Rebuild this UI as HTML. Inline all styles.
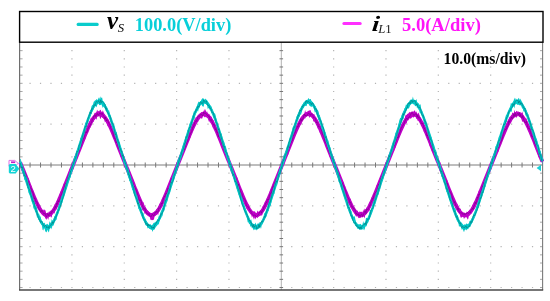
<!DOCTYPE html>
<html><head><meta charset="utf-8"><title>Waveform</title>
<style>html,body{margin:0;padding:0;background:#fff;width:550px;height:301px;overflow:hidden}svg{display:block;filter:blur(0.3px)}</style>
</head><body><svg width="550" height="301" viewBox="0 0 550 301"><path d="M71.34 50.05h1.2v1.2h-1.2zM71.34 58.22h1.2v1.2h-1.2zM71.34 66.38h1.2v1.2h-1.2zM71.34 74.55h1.2v1.2h-1.2zM71.34 82.72h1.2v1.2h-1.2zM71.34 90.89h1.2v1.2h-1.2zM71.34 99.06h1.2v1.2h-1.2zM71.34 107.22h1.2v1.2h-1.2zM71.34 115.39h1.2v1.2h-1.2zM71.34 123.56h1.2v1.2h-1.2zM71.34 131.73h1.2v1.2h-1.2zM71.34 139.9h1.2v1.2h-1.2zM71.34 148.06h1.2v1.2h-1.2zM71.34 156.23h1.2v1.2h-1.2zM71.34 164.4h1.2v1.2h-1.2zM71.34 172.57h1.2v1.2h-1.2zM71.34 180.74h1.2v1.2h-1.2zM71.34 188.9h1.2v1.2h-1.2zM71.34 197.07h1.2v1.2h-1.2zM71.34 205.24h1.2v1.2h-1.2zM71.34 213.41h1.2v1.2h-1.2zM71.34 221.58h1.2v1.2h-1.2zM71.34 229.74h1.2v1.2h-1.2zM71.34 237.91h1.2v1.2h-1.2zM71.34 246.08h1.2v1.2h-1.2zM71.34 254.25h1.2v1.2h-1.2zM71.34 262.42h1.2v1.2h-1.2zM71.34 270.58h1.2v1.2h-1.2zM71.34 278.75h1.2v1.2h-1.2zM71.34 286.92h1.2v1.2h-1.2zM123.68 50.05h1.2v1.2h-1.2zM123.68 58.22h1.2v1.2h-1.2zM123.68 66.38h1.2v1.2h-1.2zM123.68 74.55h1.2v1.2h-1.2zM123.68 82.72h1.2v1.2h-1.2zM123.68 90.89h1.2v1.2h-1.2zM123.68 99.06h1.2v1.2h-1.2zM123.68 107.22h1.2v1.2h-1.2zM123.68 115.39h1.2v1.2h-1.2zM123.68 123.56h1.2v1.2h-1.2zM123.68 131.73h1.2v1.2h-1.2zM123.68 139.9h1.2v1.2h-1.2zM123.68 148.06h1.2v1.2h-1.2zM123.68 156.23h1.2v1.2h-1.2zM123.68 164.4h1.2v1.2h-1.2zM123.68 172.57h1.2v1.2h-1.2zM123.68 180.74h1.2v1.2h-1.2zM123.68 188.9h1.2v1.2h-1.2zM123.68 197.07h1.2v1.2h-1.2zM123.68 205.24h1.2v1.2h-1.2zM123.68 213.41h1.2v1.2h-1.2zM123.68 221.58h1.2v1.2h-1.2zM123.68 229.74h1.2v1.2h-1.2zM123.68 237.91h1.2v1.2h-1.2zM123.68 246.08h1.2v1.2h-1.2zM123.68 254.25h1.2v1.2h-1.2zM123.68 262.42h1.2v1.2h-1.2zM123.68 270.58h1.2v1.2h-1.2zM123.68 278.75h1.2v1.2h-1.2zM123.68 286.92h1.2v1.2h-1.2zM176.02 50.05h1.2v1.2h-1.2zM176.02 58.22h1.2v1.2h-1.2zM176.02 66.38h1.2v1.2h-1.2zM176.02 74.55h1.2v1.2h-1.2zM176.02 82.72h1.2v1.2h-1.2zM176.02 90.89h1.2v1.2h-1.2zM176.02 99.06h1.2v1.2h-1.2zM176.02 107.22h1.2v1.2h-1.2zM176.02 115.39h1.2v1.2h-1.2zM176.02 123.56h1.2v1.2h-1.2zM176.02 131.73h1.2v1.2h-1.2zM176.02 139.9h1.2v1.2h-1.2zM176.02 148.06h1.2v1.2h-1.2zM176.02 156.23h1.2v1.2h-1.2zM176.02 164.4h1.2v1.2h-1.2zM176.02 172.57h1.2v1.2h-1.2zM176.02 180.74h1.2v1.2h-1.2zM176.02 188.9h1.2v1.2h-1.2zM176.02 197.07h1.2v1.2h-1.2zM176.02 205.24h1.2v1.2h-1.2zM176.02 213.41h1.2v1.2h-1.2zM176.02 221.58h1.2v1.2h-1.2zM176.02 229.74h1.2v1.2h-1.2zM176.02 237.91h1.2v1.2h-1.2zM176.02 246.08h1.2v1.2h-1.2zM176.02 254.25h1.2v1.2h-1.2zM176.02 262.42h1.2v1.2h-1.2zM176.02 270.58h1.2v1.2h-1.2zM176.02 278.75h1.2v1.2h-1.2zM176.02 286.92h1.2v1.2h-1.2zM228.36 50.05h1.2v1.2h-1.2zM228.36 58.22h1.2v1.2h-1.2zM228.36 66.38h1.2v1.2h-1.2zM228.36 74.55h1.2v1.2h-1.2zM228.36 82.72h1.2v1.2h-1.2zM228.36 90.89h1.2v1.2h-1.2zM228.36 99.06h1.2v1.2h-1.2zM228.36 107.22h1.2v1.2h-1.2zM228.36 115.39h1.2v1.2h-1.2zM228.36 123.56h1.2v1.2h-1.2zM228.36 131.73h1.2v1.2h-1.2zM228.36 139.9h1.2v1.2h-1.2zM228.36 148.06h1.2v1.2h-1.2zM228.36 156.23h1.2v1.2h-1.2zM228.36 164.4h1.2v1.2h-1.2zM228.36 172.57h1.2v1.2h-1.2zM228.36 180.74h1.2v1.2h-1.2zM228.36 188.9h1.2v1.2h-1.2zM228.36 197.07h1.2v1.2h-1.2zM228.36 205.24h1.2v1.2h-1.2zM228.36 213.41h1.2v1.2h-1.2zM228.36 221.58h1.2v1.2h-1.2zM228.36 229.74h1.2v1.2h-1.2zM228.36 237.91h1.2v1.2h-1.2zM228.36 246.08h1.2v1.2h-1.2zM228.36 254.25h1.2v1.2h-1.2zM228.36 262.42h1.2v1.2h-1.2zM228.36 270.58h1.2v1.2h-1.2zM228.36 278.75h1.2v1.2h-1.2zM228.36 286.92h1.2v1.2h-1.2zM333.04 50.05h1.2v1.2h-1.2zM333.04 58.22h1.2v1.2h-1.2zM333.04 66.38h1.2v1.2h-1.2zM333.04 74.55h1.2v1.2h-1.2zM333.04 82.72h1.2v1.2h-1.2zM333.04 90.89h1.2v1.2h-1.2zM333.04 99.06h1.2v1.2h-1.2zM333.04 107.22h1.2v1.2h-1.2zM333.04 115.39h1.2v1.2h-1.2zM333.04 123.56h1.2v1.2h-1.2zM333.04 131.73h1.2v1.2h-1.2zM333.04 139.9h1.2v1.2h-1.2zM333.04 148.06h1.2v1.2h-1.2zM333.04 156.23h1.2v1.2h-1.2zM333.04 164.4h1.2v1.2h-1.2zM333.04 172.57h1.2v1.2h-1.2zM333.04 180.74h1.2v1.2h-1.2zM333.04 188.9h1.2v1.2h-1.2zM333.04 197.07h1.2v1.2h-1.2zM333.04 205.24h1.2v1.2h-1.2zM333.04 213.41h1.2v1.2h-1.2zM333.04 221.58h1.2v1.2h-1.2zM333.04 229.74h1.2v1.2h-1.2zM333.04 237.91h1.2v1.2h-1.2zM333.04 246.08h1.2v1.2h-1.2zM333.04 254.25h1.2v1.2h-1.2zM333.04 262.42h1.2v1.2h-1.2zM333.04 270.58h1.2v1.2h-1.2zM333.04 278.75h1.2v1.2h-1.2zM333.04 286.92h1.2v1.2h-1.2zM385.38 50.05h1.2v1.2h-1.2zM385.38 58.22h1.2v1.2h-1.2zM385.38 66.38h1.2v1.2h-1.2zM385.38 74.55h1.2v1.2h-1.2zM385.38 82.72h1.2v1.2h-1.2zM385.38 90.89h1.2v1.2h-1.2zM385.38 99.06h1.2v1.2h-1.2zM385.38 107.22h1.2v1.2h-1.2zM385.38 115.39h1.2v1.2h-1.2zM385.38 123.56h1.2v1.2h-1.2zM385.38 131.73h1.2v1.2h-1.2zM385.38 139.9h1.2v1.2h-1.2zM385.38 148.06h1.2v1.2h-1.2zM385.38 156.23h1.2v1.2h-1.2zM385.38 164.4h1.2v1.2h-1.2zM385.38 172.57h1.2v1.2h-1.2zM385.38 180.74h1.2v1.2h-1.2zM385.38 188.9h1.2v1.2h-1.2zM385.38 197.07h1.2v1.2h-1.2zM385.38 205.24h1.2v1.2h-1.2zM385.38 213.41h1.2v1.2h-1.2zM385.38 221.58h1.2v1.2h-1.2zM385.38 229.74h1.2v1.2h-1.2zM385.38 237.91h1.2v1.2h-1.2zM385.38 246.08h1.2v1.2h-1.2zM385.38 254.25h1.2v1.2h-1.2zM385.38 262.42h1.2v1.2h-1.2zM385.38 270.58h1.2v1.2h-1.2zM385.38 278.75h1.2v1.2h-1.2zM385.38 286.92h1.2v1.2h-1.2zM437.72 50.05h1.2v1.2h-1.2zM437.72 58.22h1.2v1.2h-1.2zM437.72 66.38h1.2v1.2h-1.2zM437.72 74.55h1.2v1.2h-1.2zM437.72 82.72h1.2v1.2h-1.2zM437.72 90.89h1.2v1.2h-1.2zM437.72 99.06h1.2v1.2h-1.2zM437.72 107.22h1.2v1.2h-1.2zM437.72 115.39h1.2v1.2h-1.2zM437.72 123.56h1.2v1.2h-1.2zM437.72 131.73h1.2v1.2h-1.2zM437.72 139.9h1.2v1.2h-1.2zM437.72 148.06h1.2v1.2h-1.2zM437.72 156.23h1.2v1.2h-1.2zM437.72 164.4h1.2v1.2h-1.2zM437.72 172.57h1.2v1.2h-1.2zM437.72 180.74h1.2v1.2h-1.2zM437.72 188.9h1.2v1.2h-1.2zM437.72 197.07h1.2v1.2h-1.2zM437.72 205.24h1.2v1.2h-1.2zM437.72 213.41h1.2v1.2h-1.2zM437.72 221.58h1.2v1.2h-1.2zM437.72 229.74h1.2v1.2h-1.2zM437.72 237.91h1.2v1.2h-1.2zM437.72 246.08h1.2v1.2h-1.2zM437.72 254.25h1.2v1.2h-1.2zM437.72 262.42h1.2v1.2h-1.2zM437.72 270.58h1.2v1.2h-1.2zM437.72 278.75h1.2v1.2h-1.2zM437.72 286.92h1.2v1.2h-1.2zM490.06 50.05h1.2v1.2h-1.2zM490.06 58.22h1.2v1.2h-1.2zM490.06 66.38h1.2v1.2h-1.2zM490.06 74.55h1.2v1.2h-1.2zM490.06 82.72h1.2v1.2h-1.2zM490.06 90.89h1.2v1.2h-1.2zM490.06 99.06h1.2v1.2h-1.2zM490.06 107.22h1.2v1.2h-1.2zM490.06 115.39h1.2v1.2h-1.2zM490.06 123.56h1.2v1.2h-1.2zM490.06 131.73h1.2v1.2h-1.2zM490.06 139.9h1.2v1.2h-1.2zM490.06 148.06h1.2v1.2h-1.2zM490.06 156.23h1.2v1.2h-1.2zM490.06 164.4h1.2v1.2h-1.2zM490.06 172.57h1.2v1.2h-1.2zM490.06 180.74h1.2v1.2h-1.2zM490.06 188.9h1.2v1.2h-1.2zM490.06 197.07h1.2v1.2h-1.2zM490.06 205.24h1.2v1.2h-1.2zM490.06 213.41h1.2v1.2h-1.2zM490.06 221.58h1.2v1.2h-1.2zM490.06 229.74h1.2v1.2h-1.2zM490.06 237.91h1.2v1.2h-1.2zM490.06 246.08h1.2v1.2h-1.2zM490.06 254.25h1.2v1.2h-1.2zM490.06 262.42h1.2v1.2h-1.2zM490.06 270.58h1.2v1.2h-1.2zM490.06 278.75h1.2v1.2h-1.2zM490.06 286.92h1.2v1.2h-1.2zM29.47 82.72h1.2v1.2h-1.2zM39.94 82.72h1.2v1.2h-1.2zM50.4 82.72h1.2v1.2h-1.2zM60.87 82.72h1.2v1.2h-1.2zM81.81 82.72h1.2v1.2h-1.2zM92.28 82.72h1.2v1.2h-1.2zM102.74 82.72h1.2v1.2h-1.2zM113.21 82.72h1.2v1.2h-1.2zM134.15 82.72h1.2v1.2h-1.2zM144.62 82.72h1.2v1.2h-1.2zM155.08 82.72h1.2v1.2h-1.2zM165.55 82.72h1.2v1.2h-1.2zM186.49 82.72h1.2v1.2h-1.2zM196.96 82.72h1.2v1.2h-1.2zM207.42 82.72h1.2v1.2h-1.2zM217.89 82.72h1.2v1.2h-1.2zM238.83 82.72h1.2v1.2h-1.2zM249.3 82.72h1.2v1.2h-1.2zM259.76 82.72h1.2v1.2h-1.2zM270.23 82.72h1.2v1.2h-1.2zM291.17 82.72h1.2v1.2h-1.2zM301.64 82.72h1.2v1.2h-1.2zM312.1 82.72h1.2v1.2h-1.2zM322.57 82.72h1.2v1.2h-1.2zM343.51 82.72h1.2v1.2h-1.2zM353.98 82.72h1.2v1.2h-1.2zM364.44 82.72h1.2v1.2h-1.2zM374.91 82.72h1.2v1.2h-1.2zM395.85 82.72h1.2v1.2h-1.2zM406.32 82.72h1.2v1.2h-1.2zM416.78 82.72h1.2v1.2h-1.2zM427.25 82.72h1.2v1.2h-1.2zM448.19 82.72h1.2v1.2h-1.2zM458.66 82.72h1.2v1.2h-1.2zM469.12 82.72h1.2v1.2h-1.2zM479.59 82.72h1.2v1.2h-1.2zM500.53 82.72h1.2v1.2h-1.2zM511 82.72h1.2v1.2h-1.2zM521.46 82.72h1.2v1.2h-1.2zM531.93 82.72h1.2v1.2h-1.2zM29.47 123.56h1.2v1.2h-1.2zM39.94 123.56h1.2v1.2h-1.2zM50.4 123.56h1.2v1.2h-1.2zM60.87 123.56h1.2v1.2h-1.2zM81.81 123.56h1.2v1.2h-1.2zM92.28 123.56h1.2v1.2h-1.2zM102.74 123.56h1.2v1.2h-1.2zM113.21 123.56h1.2v1.2h-1.2zM134.15 123.56h1.2v1.2h-1.2zM144.62 123.56h1.2v1.2h-1.2zM155.08 123.56h1.2v1.2h-1.2zM165.55 123.56h1.2v1.2h-1.2zM186.49 123.56h1.2v1.2h-1.2zM196.96 123.56h1.2v1.2h-1.2zM207.42 123.56h1.2v1.2h-1.2zM217.89 123.56h1.2v1.2h-1.2zM238.83 123.56h1.2v1.2h-1.2zM249.3 123.56h1.2v1.2h-1.2zM259.76 123.56h1.2v1.2h-1.2zM270.23 123.56h1.2v1.2h-1.2zM291.17 123.56h1.2v1.2h-1.2zM301.64 123.56h1.2v1.2h-1.2zM312.1 123.56h1.2v1.2h-1.2zM322.57 123.56h1.2v1.2h-1.2zM343.51 123.56h1.2v1.2h-1.2zM353.98 123.56h1.2v1.2h-1.2zM364.44 123.56h1.2v1.2h-1.2zM374.91 123.56h1.2v1.2h-1.2zM395.85 123.56h1.2v1.2h-1.2zM406.32 123.56h1.2v1.2h-1.2zM416.78 123.56h1.2v1.2h-1.2zM427.25 123.56h1.2v1.2h-1.2zM448.19 123.56h1.2v1.2h-1.2zM458.66 123.56h1.2v1.2h-1.2zM469.12 123.56h1.2v1.2h-1.2zM479.59 123.56h1.2v1.2h-1.2zM500.53 123.56h1.2v1.2h-1.2zM511 123.56h1.2v1.2h-1.2zM521.46 123.56h1.2v1.2h-1.2zM531.93 123.56h1.2v1.2h-1.2zM29.47 205.24h1.2v1.2h-1.2zM39.94 205.24h1.2v1.2h-1.2zM50.4 205.24h1.2v1.2h-1.2zM60.87 205.24h1.2v1.2h-1.2zM81.81 205.24h1.2v1.2h-1.2zM92.28 205.24h1.2v1.2h-1.2zM102.74 205.24h1.2v1.2h-1.2zM113.21 205.24h1.2v1.2h-1.2zM134.15 205.24h1.2v1.2h-1.2zM144.62 205.24h1.2v1.2h-1.2zM155.08 205.24h1.2v1.2h-1.2zM165.55 205.24h1.2v1.2h-1.2zM186.49 205.24h1.2v1.2h-1.2zM196.96 205.24h1.2v1.2h-1.2zM207.42 205.24h1.2v1.2h-1.2zM217.89 205.24h1.2v1.2h-1.2zM238.83 205.24h1.2v1.2h-1.2zM249.3 205.24h1.2v1.2h-1.2zM259.76 205.24h1.2v1.2h-1.2zM270.23 205.24h1.2v1.2h-1.2zM291.17 205.24h1.2v1.2h-1.2zM301.64 205.24h1.2v1.2h-1.2zM312.1 205.24h1.2v1.2h-1.2zM322.57 205.24h1.2v1.2h-1.2zM343.51 205.24h1.2v1.2h-1.2zM353.98 205.24h1.2v1.2h-1.2zM364.44 205.24h1.2v1.2h-1.2zM374.91 205.24h1.2v1.2h-1.2zM395.85 205.24h1.2v1.2h-1.2zM406.32 205.24h1.2v1.2h-1.2zM416.78 205.24h1.2v1.2h-1.2zM427.25 205.24h1.2v1.2h-1.2zM448.19 205.24h1.2v1.2h-1.2zM458.66 205.24h1.2v1.2h-1.2zM469.12 205.24h1.2v1.2h-1.2zM479.59 205.24h1.2v1.2h-1.2zM500.53 205.24h1.2v1.2h-1.2zM511 205.24h1.2v1.2h-1.2zM521.46 205.24h1.2v1.2h-1.2zM531.93 205.24h1.2v1.2h-1.2zM29.47 246.08h1.2v1.2h-1.2zM39.94 246.08h1.2v1.2h-1.2zM50.4 246.08h1.2v1.2h-1.2zM60.87 246.08h1.2v1.2h-1.2zM81.81 246.08h1.2v1.2h-1.2zM92.28 246.08h1.2v1.2h-1.2zM102.74 246.08h1.2v1.2h-1.2zM113.21 246.08h1.2v1.2h-1.2zM134.15 246.08h1.2v1.2h-1.2zM144.62 246.08h1.2v1.2h-1.2zM155.08 246.08h1.2v1.2h-1.2zM165.55 246.08h1.2v1.2h-1.2zM186.49 246.08h1.2v1.2h-1.2zM196.96 246.08h1.2v1.2h-1.2zM207.42 246.08h1.2v1.2h-1.2zM217.89 246.08h1.2v1.2h-1.2zM238.83 246.08h1.2v1.2h-1.2zM249.3 246.08h1.2v1.2h-1.2zM259.76 246.08h1.2v1.2h-1.2zM270.23 246.08h1.2v1.2h-1.2zM291.17 246.08h1.2v1.2h-1.2zM301.64 246.08h1.2v1.2h-1.2zM312.1 246.08h1.2v1.2h-1.2zM322.57 246.08h1.2v1.2h-1.2zM343.51 246.08h1.2v1.2h-1.2zM353.98 246.08h1.2v1.2h-1.2zM364.44 246.08h1.2v1.2h-1.2zM374.91 246.08h1.2v1.2h-1.2zM395.85 246.08h1.2v1.2h-1.2zM406.32 246.08h1.2v1.2h-1.2zM416.78 246.08h1.2v1.2h-1.2zM427.25 246.08h1.2v1.2h-1.2zM448.19 246.08h1.2v1.2h-1.2zM458.66 246.08h1.2v1.2h-1.2zM469.12 246.08h1.2v1.2h-1.2zM479.59 246.08h1.2v1.2h-1.2zM500.53 246.08h1.2v1.2h-1.2zM511 246.08h1.2v1.2h-1.2zM521.46 246.08h1.2v1.2h-1.2zM531.93 246.08h1.2v1.2h-1.2zM29.47 286.92h1.2v1.2h-1.2zM39.94 286.92h1.2v1.2h-1.2zM50.4 286.92h1.2v1.2h-1.2zM60.87 286.92h1.2v1.2h-1.2zM81.81 286.92h1.2v1.2h-1.2zM92.28 286.92h1.2v1.2h-1.2zM102.74 286.92h1.2v1.2h-1.2zM113.21 286.92h1.2v1.2h-1.2zM134.15 286.92h1.2v1.2h-1.2zM144.62 286.92h1.2v1.2h-1.2zM155.08 286.92h1.2v1.2h-1.2zM165.55 286.92h1.2v1.2h-1.2zM186.49 286.92h1.2v1.2h-1.2zM196.96 286.92h1.2v1.2h-1.2zM207.42 286.92h1.2v1.2h-1.2zM217.89 286.92h1.2v1.2h-1.2zM238.83 286.92h1.2v1.2h-1.2zM249.3 286.92h1.2v1.2h-1.2zM259.76 286.92h1.2v1.2h-1.2zM270.23 286.92h1.2v1.2h-1.2zM291.17 286.92h1.2v1.2h-1.2zM301.64 286.92h1.2v1.2h-1.2zM312.1 286.92h1.2v1.2h-1.2zM322.57 286.92h1.2v1.2h-1.2zM343.51 286.92h1.2v1.2h-1.2zM353.98 286.92h1.2v1.2h-1.2zM364.44 286.92h1.2v1.2h-1.2zM374.91 286.92h1.2v1.2h-1.2zM395.85 286.92h1.2v1.2h-1.2zM406.32 286.92h1.2v1.2h-1.2zM416.78 286.92h1.2v1.2h-1.2zM427.25 286.92h1.2v1.2h-1.2zM448.19 286.92h1.2v1.2h-1.2zM458.66 286.92h1.2v1.2h-1.2zM469.12 286.92h1.2v1.2h-1.2zM479.59 286.92h1.2v1.2h-1.2zM500.53 286.92h1.2v1.2h-1.2zM511 286.92h1.2v1.2h-1.2zM521.46 286.92h1.2v1.2h-1.2zM531.93 286.92h1.2v1.2h-1.2zM71.34 82.72h1.2v1.2h-1.2zM71.34 123.56h1.2v1.2h-1.2zM71.34 205.24h1.2v1.2h-1.2zM71.34 246.08h1.2v1.2h-1.2zM71.34 286.92h1.2v1.2h-1.2zM123.68 82.72h1.2v1.2h-1.2zM123.68 123.56h1.2v1.2h-1.2zM123.68 205.24h1.2v1.2h-1.2zM123.68 246.08h1.2v1.2h-1.2zM123.68 286.92h1.2v1.2h-1.2zM176.02 82.72h1.2v1.2h-1.2zM176.02 123.56h1.2v1.2h-1.2zM176.02 205.24h1.2v1.2h-1.2zM176.02 246.08h1.2v1.2h-1.2zM176.02 286.92h1.2v1.2h-1.2zM228.36 82.72h1.2v1.2h-1.2zM228.36 123.56h1.2v1.2h-1.2zM228.36 205.24h1.2v1.2h-1.2zM228.36 246.08h1.2v1.2h-1.2zM228.36 286.92h1.2v1.2h-1.2zM333.04 82.72h1.2v1.2h-1.2zM333.04 123.56h1.2v1.2h-1.2zM333.04 205.24h1.2v1.2h-1.2zM333.04 246.08h1.2v1.2h-1.2zM333.04 286.92h1.2v1.2h-1.2zM385.38 82.72h1.2v1.2h-1.2zM385.38 123.56h1.2v1.2h-1.2zM385.38 205.24h1.2v1.2h-1.2zM385.38 246.08h1.2v1.2h-1.2zM385.38 286.92h1.2v1.2h-1.2zM437.72 82.72h1.2v1.2h-1.2zM437.72 123.56h1.2v1.2h-1.2zM437.72 205.24h1.2v1.2h-1.2zM437.72 246.08h1.2v1.2h-1.2zM437.72 286.92h1.2v1.2h-1.2zM490.06 82.72h1.2v1.2h-1.2zM490.06 123.56h1.2v1.2h-1.2zM490.06 205.24h1.2v1.2h-1.2zM490.06 246.08h1.2v1.2h-1.2zM490.06 286.92h1.2v1.2h-1.2z" fill="#b4b4b4"/><line x1="19.6" y1="165" x2="543" y2="165" stroke="#7c7c7c" stroke-width="1"/><line x1="281.3" y1="42" x2="281.3" y2="290" stroke="#b2b2b2" stroke-width="1"/><path d="M30.07 162.5v5 M40.54 162.5v5 M51 162.5v5 M61.47 162.5v5 M71.94 162.5v5 M82.41 162.5v5 M92.88 162.5v5 M103.34 162.5v5 M113.81 162.5v5 M124.28 162.5v5 M134.75 162.5v5 M145.22 162.5v5 M155.68 162.5v5 M166.15 162.5v5 M176.62 162.5v5 M187.09 162.5v5 M197.56 162.5v5 M208.02 162.5v5 M218.49 162.5v5 M228.96 162.5v5 M239.43 162.5v5 M249.9 162.5v5 M260.36 162.5v5 M270.83 162.5v5 M281.3 162.5v5 M291.77 162.5v5 M302.24 162.5v5 M312.7 162.5v5 M323.17 162.5v5 M333.64 162.5v5 M344.11 162.5v5 M354.58 162.5v5 M365.04 162.5v5 M375.51 162.5v5 M385.98 162.5v5 M396.45 162.5v5 M406.92 162.5v5 M417.38 162.5v5 M427.85 162.5v5 M438.32 162.5v5 M448.79 162.5v5 M459.26 162.5v5 M469.72 162.5v5 M480.19 162.5v5 M490.66 162.5v5 M501.13 162.5v5 M511.6 162.5v5 M522.06 162.5v5 M532.53 162.5v5 M279.5 50.65h3.6 M279.5 58.82h3.6 M279.5 66.98h3.6 M279.5 75.15h3.6 M279.5 83.32h3.6 M279.5 91.49h3.6 M279.5 99.66h3.6 M279.5 107.82h3.6 M279.5 115.99h3.6 M279.5 124.16h3.6 M279.5 132.33h3.6 M279.5 140.5h3.6 M279.5 148.66h3.6 M279.5 156.83h3.6 M279.5 165h3.6 M279.5 173.17h3.6 M279.5 181.34h3.6 M279.5 189.5h3.6 M279.5 197.67h3.6 M279.5 205.84h3.6 M279.5 214.01h3.6 M279.5 222.18h3.6 M279.5 230.34h3.6 M279.5 238.51h3.6 M279.5 246.68h3.6 M279.5 254.85h3.6 M279.5 263.02h3.6 M279.5 271.18h3.6 M279.5 279.35h3.6 M279.5 287.52h3.6 " stroke="#787878" stroke-width="1" fill="none"/><path d="M19.6 50.65h3 M543 50.65h-3 M19.6 58.82h3 M543 58.82h-3 M19.6 66.98h3 M543 66.98h-3 M19.6 75.15h3 M543 75.15h-3 M19.6 83.32h3 M543 83.32h-3 M19.6 91.49h3 M543 91.49h-3 M19.6 99.66h3 M543 99.66h-3 M19.6 107.82h3 M543 107.82h-3 M19.6 115.99h3 M543 115.99h-3 M19.6 124.16h3 M543 124.16h-3 M19.6 132.33h3 M543 132.33h-3 M19.6 140.5h3 M543 140.5h-3 M19.6 148.66h3 M543 148.66h-3 M19.6 156.83h3 M543 156.83h-3 M19.6 165h3 M543 165h-3 M19.6 173.17h3 M543 173.17h-3 M19.6 181.34h3 M543 181.34h-3 M19.6 189.5h3 M543 189.5h-3 M19.6 197.67h3 M543 197.67h-3 M19.6 205.84h3 M543 205.84h-3 M19.6 214.01h3 M543 214.01h-3 M19.6 222.18h3 M543 222.18h-3 M19.6 230.34h3 M543 230.34h-3 M19.6 238.51h3 M543 238.51h-3 M19.6 246.68h3 M543 246.68h-3 M19.6 254.85h3 M543 254.85h-3 M19.6 263.02h3 M543 263.02h-3 M19.6 271.18h3 M543 271.18h-3 M19.6 279.35h3 M543 279.35h-3 M19.6 287.52h3 M543 287.52h-3 " stroke="#a8a8a8" stroke-width="1" fill="none"/><line x1="19.6" y1="42" x2="19.6" y2="290" stroke="#6e6e6e" stroke-width="1.2"/><line x1="542.6" y1="42" x2="542.6" y2="290" stroke="#7a7a7a" stroke-width="1.1"/><line x1="19" y1="290" x2="543.2" y2="290" stroke="#4a4a4a" stroke-width="1.5"/><polygon points="20.2,160.01 20.9,161.71 21.6,163.74 22.3,163.89 23,167.21 23.7,168.95 24.4,169.79 25.1,172.43 25.8,174.16 26.5,175.61 27.2,177.24 27.9,178.52 28.6,178.03 29.3,181.84 30,184.66 30.7,186.29 31.4,185.42 32.1,189.94 32.8,188.67 33.5,192.58 34.2,195.04 34.9,195.28 35.6,198.26 36.3,199.79 37,201.27 37.7,201.87 38.4,204.06 39.1,203.72 39.8,206.56 40.5,206.87 41.2,208.71 41.9,209.56 42.6,210.51 43.3,210.53 44,209.01 44.7,210.25 45.4,210.3 46.1,212.93 46.8,213.06 47.5,212.38 48.2,212.97 48.9,211.61 49.6,211.68 50.3,210.68 51,210.72 51.7,210.49 52.4,209.74 53.1,208.82 53.8,207.19 54.5,204.41 55.2,204.41 55.9,204.19 56.6,201.72 57.3,200.58 58,199.81 58.7,197.85 59.4,195.51 60.1,192.71 60.8,191.16 61.5,190.23 62.2,189.31 62.9,187.64 63.6,183.48 64.3,184.67 65,182.83 65.7,179.99 66.4,179.22 67.1,177.42 67.8,176 68.5,173.31 69.2,170.18 69.9,168.54 70.6,169.05 71.3,164.9 72,164.97 72.7,163.49 73.4,161 74.1,160.41 74.8,158.66 75.5,156.58 76.2,152.2 76.9,153.49 77.6,150.61 78.3,148.41 79,147.94 79.7,146.44 80.4,143.92 81.1,142.06 81.8,140.17 82.5,139.42 83.2,136.52 83.9,135.81 84.6,133.47 85.3,130.92 86,128.23 86.7,128.87 87.4,127.38 88.1,124.36 88.8,123.57 89.5,121.23 90.2,121.55 90.9,117.25 91.6,118.87 92.3,117.66 93,116.17 93.7,115.71 94.4,113.18 95.1,112.46 95.8,112.9 96.5,111.72 97.2,109.59 97.9,111.53 98.6,110.95 99.3,111.14 100,109.81 100.7,109.93 101.4,111.59 102.1,112.19 102.8,110.21 103.5,112.12 104.2,113.46 104.9,115.15 105.6,116.28 106.3,117.14 107,118.2 107.7,119.03 108.4,119.58 109.1,122.44 109.8,123.78 110.5,124.18 111.2,126.94 111.9,128.32 112.6,129.76 113.3,131.1 114,131.63 114.7,135.28 115.4,134.71 116.1,136.3 116.8,138.33 117.5,141.1 118.2,142.25 118.9,145.85 119.6,147.61 120.3,146.95 121,150.71 121.7,151.84 122.4,154.6 123.1,155.91 123.8,158.06 124.5,156.7 125.2,161.54 125.9,161.83 126.6,164.55 127.3,166.72 128,168.44 128.7,169.98 129.4,171.5 130.1,172.03 130.8,174.63 131.5,176.78 132.2,178.89 132.9,179.2 133.6,180.17 134.3,182.79 135,184.78 135.7,187.41 136.4,188.64 137.1,188.5 137.8,191.98 138.5,194.38 139.2,195.11 139.9,197.81 140.6,199.32 141.3,200.85 142,202.27 142.7,203.29 143.4,201.87 144.1,206.25 144.8,207.4 145.5,208.12 146.2,208.69 146.9,210.04 147.6,210.88 148.3,211.11 149,212.12 149.7,212.61 150.4,212.7 151.1,213.06 151.8,213.1 152.5,212.67 153.2,212.35 153.9,212.15 154.6,211.32 155.3,211.16 156,210.31 156.7,209.03 157.4,208.46 158.1,207.62 158.8,205.74 159.5,203.55 160.2,204.41 160.9,202.65 161.6,200.45 162.3,197.34 163,198.82 163.7,197 164.4,195.12 165.1,192.99 165.8,192.13 166.5,190.45 167.2,188.86 167.9,186.34 168.6,185.12 169.3,183.44 170,181.73 170.7,177.58 171.4,178.31 172.1,176.56 172.8,173.77 173.5,173.05 174.2,171.31 174.9,168.5 175.6,167.69 176.3,166.1 177,161.89 177.7,162.38 178.4,160.82 179.1,156.9 179.8,157.3 180.5,155.54 181.2,152.37 181.9,151.67 182.6,148.31 183.3,148.3 184,144.1 184.7,145.22 185.4,143.46 186.1,139.37 186.8,139.93 187.5,138.14 188.2,135.98 188.9,134.58 189.6,132.61 190.3,130.17 191,127.84 191.7,126.34 192.4,123.61 193.1,123.74 193.8,123.16 194.5,118.86 195.2,120.59 195.9,116.41 196.6,118.12 197.3,116.99 198,115.35 198.7,115.05 199.4,114.19 200.1,113.49 200.8,112.91 201.5,111.91 202.2,112.02 202.9,111.7 203.6,111.35 204.3,109 205,111.38 205.7,108.99 206.4,112.47 207.1,111.34 207.8,113.56 208.5,114.24 209.2,114.29 209.9,115.57 210.6,117.09 211.3,116.43 212,118.24 212.7,120.38 213.4,120.06 214.1,123.27 214.8,123.19 215.5,126.07 216.2,128.03 216.9,129.67 217.6,131.27 218.3,132.92 219,133 219.7,136.39 220.4,137.73 221.1,136.94 221.8,141.08 222.5,143.08 223.2,145.16 223.9,147.09 224.6,146.17 225.3,150.5 226,152.36 226.7,152.97 227.4,153.97 228.1,157.55 228.8,159.1 229.5,160.79 230.2,161.33 230.9,164.38 231.6,166.02 232.3,166.38 233,169.69 233.7,170.55 234.4,172.76 235.1,174.2 235.8,174.33 236.5,178.04 237.2,177.13 237.9,180.1 238.6,182.94 239.3,185.44 240,187.13 240.7,188.66 241.4,190.7 242.1,191.85 242.8,191.69 243.5,195.05 244.2,197.28 244.9,198.33 245.6,199.93 246.3,201.9 247,202.41 247.7,203.37 248.4,204.25 249.1,206.76 249.8,207.58 250.5,209.1 251.2,209.2 251.9,210.82 252.6,211.17 253.3,211.01 254,212.14 254.7,210.82 255.4,212.44 256.1,212.64 256.8,212.95 257.5,210.54 258.2,211.22 258.9,212.17 259.6,211.23 260.3,209.91 261,210.13 261.7,209.36 262.4,207.44 263.1,205.65 263.8,205.59 264.5,203.34 265.2,200.86 265.9,202.14 266.6,198.48 267.3,199.12 268,197.7 268.7,195.7 269.4,194.11 270.1,190.26 270.8,189.19 271.5,189.34 272.2,187.59 272.9,183.68 273.6,182.88 274.3,180.24 275,179.5 275.7,178.82 276.4,175.91 277.1,175.26 277.8,173.39 278.5,171.15 279.2,167.52 279.9,167.49 280.6,166.32 281.3,164.87 282,163.09 282.7,161.34 283.4,159.62 284.1,155.64 284.8,155.91 285.5,151.92 286.2,152.19 286.9,150.08 287.6,148.83 288.3,147.04 289,144.21 289.7,143.92 290.4,140.65 291.1,140.07 291.8,138.29 292.5,135.77 293.2,135.18 293.9,133.09 294.6,131.72 295.3,127.72 296,126.89 296.7,126.78 297.4,124.55 298.1,123.17 298.8,122.36 299.5,119.94 300.2,119.69 300.9,118.43 301.6,116.94 302.3,116.26 303,115.31 303.7,114.45 304.4,113.47 305.1,109.92 305.8,112.53 306.5,112.12 307.2,111.74 307.9,111.01 308.6,110.83 309.3,110.72 310,109.78 310.7,110.43 311.4,112.78 312.1,112.85 312.8,114.04 313.5,114.59 314.2,113.72 314.9,116.78 315.6,117.81 316.3,119.01 317,119.16 317.7,121.66 318.4,121.65 319.1,124.56 319.8,126.09 320.5,126.2 321.2,129.09 321.9,130.93 322.6,132.53 323.3,134.33 324,134.84 324.7,137.78 325.4,139.35 326.1,141.28 326.8,143.05 327.5,144.05 328.2,143.64 328.9,145.88 329.6,149.17 330.3,151.83 331,153.36 331.7,155.17 332.4,157.02 333.1,158.48 333.8,160.5 334.5,162.04 335.2,162.9 335.9,165.73 336.6,167.46 337.3,168.81 338,170.83 338.7,172.55 339.4,174.37 340.1,175.85 340.8,177.79 341.5,178.23 342.2,181.24 342.9,181.4 343.6,182.58 344.3,186.32 345,185.5 345.7,190.18 346.4,191.93 347.1,193.57 347.8,194.75 348.5,195.07 349.2,198.35 349.9,198.85 350.6,198.64 351.3,202.16 352,204.12 352.7,205.07 353.4,206.65 354.1,207.86 354.8,208.88 355.5,209.51 356.2,210.6 356.9,211.32 357.6,210.3 358.3,212.34 359,212.63 359.7,211.16 360.4,211.96 361.1,211.43 361.8,211.98 362.5,212.68 363.2,209.37 363.9,211.56 364.6,208.58 365.3,209.29 366,209.54 366.7,208.67 367.4,207.13 368.1,206.41 368.8,205.22 369.5,202.56 370.2,201.56 370.9,201.18 371.6,197.09 372.3,198.15 373,195.98 373.7,194.86 374.4,193.1 375.1,191.56 375.8,189.85 376.5,184.94 377.2,186 377.9,184.41 378.6,181.94 379.3,178.44 380,179.05 380.7,177.55 381.4,175.8 382.1,172.68 382.8,172.31 383.5,170.56 384.2,167.24 384.9,165.44 385.6,162.3 386.3,163.43 387,159.5 387.7,160.14 388.4,157.54 389.1,155.89 389.8,152.61 390.5,153.12 391.2,150.18 391.9,149.73 392.6,147.85 393.3,145.82 394,143.97 394.7,140.52 395.4,140.94 396.1,136.33 396.8,136.31 397.5,134.7 398.2,133.95 398.9,132.25 399.6,129.73 400.3,126.7 401,126.92 401.7,123.88 402.4,123.3 403.1,122.74 403.8,120.94 404.5,119.77 405.2,116.22 405.9,114.5 406.6,115.28 407.3,113.49 408,114.31 408.7,113.04 409.4,111.63 410.1,112.7 410.8,112.22 411.5,111.46 412.2,111.7 412.9,111.15 413.6,111.71 414.3,110.47 415,110.62 415.7,112.66 416.4,111.14 417.1,113.85 417.8,113.88 418.5,112.42 419.2,114.33 419.9,116.6 420.6,118.59 421.3,119.89 422,121.27 422.7,122.35 423.4,121.47 424.1,125.62 424.8,125.94 425.5,128.6 426.2,130.22 426.9,131.84 427.6,133.71 428.3,134.95 429,137.23 429.7,138.76 430.4,139.5 431.1,142.58 431.8,144.07 432.5,145.03 433.2,147.64 433.9,149.57 434.6,149.6 435.3,152.6 436,154.85 436.7,155.38 437.4,156.01 438.1,159.24 438.8,161.46 439.5,162.8 440.2,162.11 440.9,166.09 441.6,168.7 442.3,169.54 443,172.15 443.7,173.73 444.4,175.67 445.1,176.13 445.8,177.95 446.5,180.63 447.2,180.03 447.9,184.35 448.6,186.24 449.3,187.57 450,189.72 450.7,191.36 451.4,192.91 452.1,194.51 452.8,194.47 453.5,198.03 454.2,199.37 454.9,198.22 455.6,202.51 456.3,202.74 457,205.2 457.7,203.54 458.4,207.56 459.1,208.55 459.8,209.44 460.5,208.17 461.2,210.73 461.9,211.67 462.6,212.11 463.3,212.51 464,212.93 464.7,212.6 465.4,213.06 466.1,212.89 466.8,211.42 467.5,212.2 468.2,211.28 468.9,210.68 469.6,209.95 470.3,209.47 471,208.95 471.7,207.88 472.4,204.8 473.1,204.64 473.8,202.53 474.5,201.26 475.2,201.61 475.9,199.35 476.6,197.76 477.3,195.65 478,194.11 478.7,190.69 479.4,190.52 480.1,190.17 480.8,188.6 481.5,186.86 482.2,184.17 482.9,183.35 483.6,181.03 484.3,179.6 485,178.06 485.7,176.31 486.4,173.57 487.1,171.76 487.8,171.06 488.5,168.68 489.2,167.57 489.9,165.41 490.6,162.22 491.3,162.05 492,159.59 492.7,157.7 493.4,157.21 494.1,154.3 494.8,153.18 495.5,151.69 496.2,148.88 496.9,146.54 497.6,146.15 498.3,144.96 499,141.54 499.7,141.41 500.4,138.96 501.1,137.3 501.8,135.14 502.5,133.27 503.2,131.52 503.9,131.06 504.6,129.32 505.3,127.42 506,126.13 506.7,124.66 507.4,122.47 508.1,121.29 508.8,118.94 509.5,116.52 510.2,117.92 510.9,115.62 511.6,115.27 512.3,112.19 513,113.22 513.7,113.43 514.4,109.75 515.1,112.38 515.8,112.03 516.5,110.78 517.2,111.25 517.9,111.71 518.6,111.48 519.3,111.91 520,112.16 520.7,112.48 521.4,113.55 522.1,111.43 522.8,113.22 523.5,115.82 524.2,116.5 524.9,118.37 525.6,119.6 526.3,118.09 527,120.45 527.7,123.09 528.4,125.21 529.1,123.79 529.8,128.24 530.5,128.53 531.2,131.2 531.9,133.06 532.6,135.06 533.3,136.46 534,138.52 534.7,139.86 535.4,142.06 536.1,143.72 536.8,144.02 537.5,145.94 538.2,148.89 538.9,150.73 539.6,152.43 540.3,152.83 541,155.92 541.7,156.53 542.4,159.56 542.4,164.16 541.7,162.38 541,160.37 540.3,158.68 539.6,156.83 538.9,157.49 538.2,156.42 537.5,151.61 536.8,150.31 536.1,149.27 535.4,146.32 534.7,144.57 534,143.66 533.3,142.55 532.6,139.29 531.9,137.6 531.2,135.98 530.5,134.25 529.8,132.69 529.1,132.81 528.4,129.41 527.7,129.3 527,127.52 526.3,125.1 525.6,123.8 524.9,123.02 524.2,122.18 523.5,121.06 522.8,122.06 522.1,121.35 521.4,118.97 520.7,117.25 520,117.29 519.3,116.71 518.6,116.1 517.9,116.4 517.2,115.91 516.5,118.01 515.8,116.83 515.1,117.53 514.4,117.14 513.7,118.21 513,118.33 512.3,119.14 511.6,120.18 510.9,123.75 510.2,122.46 509.5,123.51 508.8,124.68 508.1,126.89 507.4,127.91 506.7,130.9 506,130.82 505.3,132.05 504.6,133.66 503.9,135.76 503.2,137.01 502.5,138.74 501.8,140.54 501.1,144.46 500.4,143.89 499.7,145.67 499,147.41 498.3,151.92 497.6,151.47 496.9,152.69 496.2,154.45 495.5,156.56 494.8,160.91 494.1,159.94 493.4,163.21 492.7,163.75 492,164.91 491.3,169.62 490.6,168.47 489.9,170.24 489.2,171.92 488.5,173.55 487.8,176.57 487.1,177.19 486.4,181.31 485.7,180.77 485,184.4 484.3,184.52 483.6,188.3 482.9,187.65 482.2,189.84 481.5,191.07 480.8,192.91 480.1,194.83 479.4,196.52 478.7,200.4 478,199.83 477.3,201.84 476.6,202.8 475.9,204.87 475.2,207.23 474.5,208.79 473.8,208.69 473.1,209.85 472.4,211.25 471.7,213.76 471,213.16 470.3,214.51 469.6,215.53 468.9,215.73 468.2,218.99 467.5,219.51 466.8,217.34 466.1,217.55 465.4,217.3 464.7,217.8 464,218.99 463.3,217.11 462.6,216.72 461.9,217.25 461.2,217.7 460.5,217.31 459.8,214.13 459.1,212.81 458.4,211.99 457.7,211.47 457,209.41 456.3,208.11 455.6,208.48 454.9,205.51 454.2,204.52 453.5,205.16 452.8,200.65 452.1,199.56 451.4,197.34 450.7,197.15 450,193.93 449.3,192.19 448.6,192.01 447.9,189.18 447.2,189.22 446.5,185.16 445.8,184.89 445.1,181.69 444.4,180.76 443.7,179.44 443,176.54 442.3,174.67 441.6,173.22 440.9,172.27 440.2,169.64 439.5,170.63 438.8,166.08 438.1,164.59 437.4,165.27 436.7,161.75 436,159.21 435.3,157.32 434.6,157.54 433.9,154.06 433.2,152.07 432.5,151.28 431.8,151.33 431.1,147.02 430.4,145.71 429.7,145.86 429,143.51 428.3,139.84 427.6,139.16 426.9,136.76 426.2,136.43 425.5,133.03 424.8,131.56 424.1,133 423.4,129.06 422.7,126.89 422,125.49 421.3,124.86 420.6,123.02 419.9,122.01 419.2,121.92 418.5,119.74 417.8,121.18 417.1,118.25 416.4,119.26 415.7,116.87 415,116.45 414.3,116.67 413.6,117.6 412.9,117.46 412.2,116.82 411.5,118.23 410.8,118.15 410.1,119.01 409.4,117.88 408.7,120.76 408,118.93 407.3,119.78 406.6,123.86 405.9,123.12 405.2,123.02 404.5,124.92 403.8,125.58 403.1,127.67 402.4,128.68 401.7,131.01 401,132.11 400.3,135.15 399.6,134.82 398.9,137.28 398.2,138.32 397.5,142.62 396.8,141.65 396.1,143.42 395.4,148.23 394.7,147.01 394,151.43 393.3,150.64 392.6,152.45 391.9,153.95 391.2,156.22 390.5,158.75 389.8,159.29 389.1,161.06 388.4,164.35 387.7,164.57 387,166.11 386.3,168.96 385.6,169.57 384.9,173.11 384.2,174.3 383.5,175.23 382.8,176.54 382.1,178.35 381.4,180.01 380.7,181.76 380,185.38 379.3,187.35 378.6,187.82 377.9,188.81 377.2,190.79 376.5,192.34 375.8,194.07 375.1,198.04 374.4,197.51 373.7,199.16 373,200.77 372.3,202.46 371.6,203.95 370.9,205.41 370.2,207.35 369.5,211.22 368.8,209.68 368.1,212.35 367.4,212.2 366.7,212.99 366,215.07 365.3,214.66 364.6,218.48 363.9,216.8 363.2,216.51 362.5,217.52 361.8,217.18 361.1,217.28 360.4,218.06 359.7,217.76 359,218.35 358.3,217.76 357.6,216.31 356.9,215.58 356.2,216.9 355.5,215.48 354.8,214.21 354.1,212.07 353.4,210.97 352.7,209.8 352,208.55 351.3,207.5 350.6,207.5 349.9,205.3 349.2,204.91 348.5,204.01 347.8,200.26 347.1,198.2 346.4,196.64 345.7,195.42 345,192.7 344.3,191.04 343.6,189.19 342.9,189.61 342.2,185.89 341.5,184.69 340.8,182.75 340.1,181.13 339.4,179.58 338.7,179.15 338,175.19 337.3,174.04 336.6,171.88 335.9,170.12 335.2,168.75 334.5,166.49 333.8,164.75 333.1,163.03 332.4,161.3 331.7,159.67 331,158.01 330.3,156.88 329.6,157.11 328.9,152.6 328.2,150.89 327.5,149.63 326.8,147.28 326.1,145.6 325.4,143.95 324.7,142.08 324,141.21 323.3,139.67 322.6,137.07 321.9,135.82 321.2,133.53 320.5,132.32 319.8,132.49 319.1,128.87 318.4,128.5 317.7,128.51 317,124.6 316.3,123.46 315.6,122.08 314.9,122.04 314.2,120 313.5,122.21 312.8,118.6 312.1,117.6 311.4,117.14 310.7,116.73 310,116.53 309.3,118.06 308.6,115.9 307.9,115.94 307.2,116.21 306.5,116.68 305.8,116.82 305.1,118.71 304.4,117.92 303.7,118.85 303,119.56 302.3,120.77 301.6,122.93 300.9,125.59 300.2,124.11 299.5,127.03 298.8,126.63 298.1,128.02 297.4,129.98 296.7,131.07 296,132.72 295.3,134.9 294.6,137.61 293.9,137.94 293.2,139.41 292.5,141.74 291.8,142.88 291.1,144.68 290.4,147.99 289.7,148.44 289,149.94 288.3,154.44 287.6,155.38 286.9,156.73 286.2,157.8 285.5,159.08 284.8,161.77 284.1,165.24 283.4,164.41 282.7,166.99 282,169 281.3,169.76 280.6,171.27 279.9,172.53 279.2,175.22 278.5,176.05 277.8,178.68 277.1,180.44 276.4,181.29 275.7,183.06 275,187.42 274.3,187.71 273.6,188.41 272.9,190.07 272.2,192.62 271.5,195.73 270.8,195.42 270.1,199.28 269.4,198.68 268.7,202.9 268,204.22 267.3,204.1 266.6,206.71 265.9,206.53 265.2,207.81 264.5,209.13 263.8,212.73 263.1,211.56 262.4,214.67 261.7,215.98 261,214.62 260.3,215.65 259.6,216.03 258.9,216.37 258.2,216.87 257.5,218.33 256.8,217.25 256.1,217.56 255.4,219.6 254.7,217.24 254,219.85 253.3,217.66 252.6,215.93 251.9,217.86 251.2,214.25 250.5,213.94 249.8,212.38 249.1,211.29 248.4,210.11 247.7,209.03 247,207.61 246.3,209.19 245.6,204.65 244.9,204.97 244.2,203.87 243.5,199.95 242.8,201.42 242.1,197.18 241.4,197.27 240.7,193.19 240,194.01 239.3,190.3 238.6,187.96 237.9,186.19 237.2,184.84 236.5,182.65 235.8,181.41 235.1,179.14 234.4,178.95 233.7,175.64 233,174.01 232.3,173.08 231.6,171.52 230.9,168.92 230.2,168.74 229.5,165.67 228.8,163.52 228.1,161.8 227.4,160.72 226.7,158.33 226,156.57 225.3,156.63 224.6,153.64 223.9,152.56 223.2,150.5 222.5,147.87 221.8,146.1 221.1,145.9 220.4,142.82 219.7,141.91 219,139.92 218.3,137.63 217.6,136.66 216.9,134.28 216.2,132.42 215.5,130.75 214.8,129.22 214.1,130.17 213.4,126.36 212.7,127.7 212,123.62 211.3,122.41 210.6,123.06 209.9,120.27 209.2,122.46 208.5,120.59 207.8,117.78 207.1,118.32 206.4,117.01 205.7,117.21 205,116.49 204.3,117.56 203.6,115.95 202.9,116.56 202.2,118.51 201.5,118.39 200.8,118.51 200.1,117.74 199.4,119.62 198.7,119.28 198,122.59 197.3,121.21 196.6,123.2 195.9,123.53 195.2,125.06 194.5,126.34 193.8,127.61 193.1,130.74 192.4,131.47 191.7,134.07 191,134.79 190.3,137.95 189.6,137.69 188.9,141.81 188.2,142.07 187.5,142.42 186.8,145.47 186.1,145.9 185.4,147.66 184.7,149.95 184,152.07 183.3,153.46 182.6,154.77 181.9,156.46 181.2,158.69 180.5,159.95 179.8,161.81 179.1,163.44 178.4,165.32 177.7,168.5 177,171.23 176.3,171.45 175.6,173.26 174.9,173.84 174.2,175.6 173.5,177.29 172.8,179.09 172.1,181.33 171.4,184.66 170.7,184.53 170,186.57 169.3,188.7 168.6,189.62 167.9,192.77 167.2,193.06 166.5,196.11 165.8,196.84 165.1,198.71 164.4,199.83 163.7,202.22 163,203.02 162.3,207 161.6,206.04 160.9,208.08 160.2,208.82 159.5,211.57 158.8,211.25 158.1,215.47 157.4,213.53 156.7,214.49 156,214.98 155.3,215.69 154.6,216.23 153.9,219.68 153.2,219.64 152.5,220.16 151.8,219.67 151.1,220.35 150.4,219.41 149.7,216.82 149,216.4 148.3,215.95 147.6,215.31 146.9,214.95 146.2,213.62 145.5,212.68 144.8,214.18 144.1,211.14 143.4,210.05 142.7,210.8 142,208.9 141.3,205.25 140.6,203.78 139.9,202.76 139.2,201.83 138.5,201.97 137.8,197.69 137.1,196.34 136.4,194.45 135.7,191.94 135,190.19 134.3,189.87 133.6,188.85 132.9,186.64 132.2,185.57 131.5,184.42 130.8,179.84 130.1,179 129.4,176.13 128.7,174.42 128,172.95 127.3,172.02 126.6,169.45 125.9,167.58 125.2,168.49 124.5,166.56 123.8,162.31 123.1,161.13 122.4,158.81 121.7,157.09 121,156.72 120.3,156.48 119.6,151.84 118.9,150.26 118.2,148.53 117.5,146.58 116.8,144.77 116.1,143.04 115.4,141.36 114.7,140.82 114,138.54 113.3,136.94 112.6,134.44 111.9,132.96 111.2,131.21 110.5,129.64 109.8,128.89 109.1,127.71 108.4,125.29 107.7,126.51 107,122.85 106.3,123.33 105.6,120.88 104.9,122.38 104.2,118.72 103.5,118.54 102.8,117.76 102.1,117.51 101.4,116.42 100.7,119.01 100,118.28 99.3,116 98.6,116.44 97.9,116.27 97.2,116.53 96.5,119.68 95.8,118.75 95.1,118.23 94.4,119.03 93.7,121.6 93,122.36 92.3,122 91.6,125.59 90.9,124.94 90.2,128.11 89.5,128.03 88.8,128.68 88.1,132.87 87.4,132.34 86.7,134.15 86,136.23 85.3,139.09 84.6,139.8 83.9,141.23 83.2,141.9 82.5,143.64 81.8,145.42 81.1,148.84 80.4,149.21 79.7,150.69 79,152.44 78.3,154.2 77.6,156.54 76.9,159.82 76.2,159.73 75.5,161.26 74.8,163.12 74.1,164.92 73.4,169.1 72.7,169.96 72,169.91 71.3,173.72 70.6,173.53 69.9,175.12 69.2,177.68 68.5,178.53 67.8,180.26 67.1,182.76 66.4,183.81 65.7,185.54 65,189.19 64.3,190.33 63.6,193 62.9,192.56 62.2,194.47 61.5,198.07 60.8,199.81 60.1,199.5 59.4,202.1 58.7,203.86 58,207.31 57.3,205.96 56.6,209.88 55.9,208.39 55.2,210.31 54.5,213.89 53.8,212 53.1,213.03 52.4,214 51.7,217.23 51,217.46 50.3,216.08 49.6,216.64 48.9,216.98 48.2,220.02 47.5,217.53 46.8,220.03 46.1,218.45 45.4,218.65 44.7,216.55 44,216.4 43.3,215.59 42.6,215.34 41.9,213.96 41.2,213 40.5,211.92 39.8,210.99 39.1,209.67 38.4,208.35 37.7,206.93 37,206.75 36.3,204.57 35.6,202.46 34.9,200.88 34.2,199.36 33.5,199.09 32.8,196.09 32.1,196.58 31.4,194.38 30.7,192.63 30,188.94 29.3,187.28 28.6,188.57 27.9,183.96 27.2,182.73 26.5,180.41 25.8,178.42 25.1,177.1 24.4,175.63 23.7,176.18 23,173.11 22.3,169.69 21.6,168.39 20.9,166.65 20.2,165.06" fill="#c000c8"/><polyline points="20.2,162.4 20.9,164.13 21.6,165.86 22.3,167.59 23,169.32 23.7,171.05 24.4,172.79 25.1,174.53 25.8,176.28 26.5,178.03 27.2,179.79 27.9,181.55 28.6,183.31 29.3,185.08 30,186.84 30.7,188.59 31.4,190.34 32.1,192.07 32.8,193.79 33.5,195.48 34.2,197.14 34.9,198.77 35.6,200.36 36.3,201.91 37,203.4 37.7,204.83 38.4,206.19 39.1,207.48 39.8,208.69 40.5,209.81 41.2,210.85 41.9,211.78 42.6,212.61 43.3,213.33 44,213.94 44.7,214.43 45.4,214.8 46.1,215.05 46.8,215.18 47.5,215.19 48.2,215.07 48.9,214.82 49.6,214.46 50.3,213.98 51,213.38 51.7,212.66 52.4,211.84 53.1,210.92 53.8,209.89 54.5,208.77 55.2,207.57 55.9,206.29 56.6,204.93 57.3,203.5 58,202.01 58.7,200.47 59.4,198.89 60.1,197.26 60.8,195.6 61.5,193.91 62.2,192.19 62.9,190.46 63.6,188.72 64.3,186.96 65,185.2 65.7,183.44 66.4,181.68 67.1,179.91 67.8,178.16 68.5,176.4 69.2,174.66 69.9,172.91 70.6,171.17 71.3,169.44 72,167.71 72.7,165.98 73.4,164.25 74.1,162.53 74.8,160.8 75.5,159.06 76.2,157.33 76.9,155.59 77.6,153.85 78.3,152.1 79,150.34 79.7,148.58 80.4,146.82 81.1,145.06 81.8,143.3 82.5,141.54 83.2,139.78 83.9,138.04 84.6,136.32 85.3,134.61 86,132.92 86.7,131.27 87.4,129.65 88.1,128.08 88.8,126.55 89.5,125.09 90.2,123.68 90.9,122.34 91.6,121.08 92.3,119.9 93,118.81 93.7,117.81 94.4,116.91 95.1,116.12 95.8,115.44 96.5,114.87 97.2,114.42 97.9,114.09 98.6,113.89 99.3,113.8 100,113.84 100.7,114.01 101.4,114.29 102.1,114.7 102.8,115.22 103.5,115.87 104.2,116.62 104.9,117.48 105.6,118.44 106.3,119.5 107,120.65 107.7,121.88 108.4,123.19 109.1,124.58 109.8,126.02 110.5,127.53 111.2,129.09 111.9,130.69 112.6,132.33 113.3,134 114,135.7 114.7,137.42 115.4,139.16 116.1,140.91 116.8,142.67 117.5,144.43 118.2,146.19 118.9,147.95 119.6,149.71 120.3,151.47 121,153.22 121.7,154.97 122.4,156.71 123.1,158.45 123.8,160.18 124.5,161.91 125.2,163.64 125.9,165.36 126.6,167.09 127.3,168.82 128,170.55 128.7,172.29 129.4,174.03 130.1,175.78 130.8,177.53 131.5,179.29 132.2,181.05 132.9,182.81 133.6,184.57 134.3,186.33 135,188.09 135.7,189.84 136.4,191.58 137.1,193.3 137.8,195 138.5,196.67 139.2,198.31 139.9,199.91 140.6,201.47 141.3,202.98 142,204.42 142.7,205.81 143.4,207.12 144.1,208.35 144.8,209.5 145.5,210.56 146.2,211.52 146.9,212.38 147.6,213.13 148.3,213.78 149,214.3 149.7,214.71 150.4,214.99 151.1,215.16 151.8,215.2 152.5,215.11 153.2,214.91 153.9,214.58 154.6,214.13 155.3,213.56 156,212.88 156.7,212.09 157.4,211.19 158.1,210.19 158.8,209.1 159.5,207.92 160.2,206.66 160.9,205.32 161.6,203.91 162.3,202.45 163,200.92 163.7,199.35 164.4,197.73 165.1,196.08 165.8,194.39 166.5,192.68 167.2,190.96 167.9,189.22 168.6,187.46 169.3,185.7 170,183.94 170.7,182.18 171.4,180.42 172.1,178.66 172.8,176.9 173.5,175.15 174.2,173.41 174.9,171.67 175.6,169.94 176.3,168.2 177,166.47 177.7,164.75 178.4,163.02 179.1,161.29 179.8,159.56 180.5,157.83 181.2,156.09 181.9,154.34 182.6,152.6 183.3,150.84 184,149.09 184.7,147.32 185.4,145.56 186.1,143.8 186.8,142.04 187.5,140.28 188.2,138.54 188.9,136.81 189.6,135.09 190.3,133.4 191,131.74 191.7,130.11 192.4,128.53 193.1,126.99 193.8,125.5 194.5,124.07 195.2,122.71 195.9,121.43 196.6,120.23 197.3,119.11 198,118.08 198.7,117.16 199.4,116.34 200.1,115.62 200.8,115.02 201.5,114.54 202.2,114.18 202.9,113.93 203.6,113.81 204.3,113.82 205,113.95 205.7,114.2 206.4,114.57 207.1,115.06 207.8,115.67 208.5,116.39 209.2,117.22 209.9,118.15 210.6,119.19 211.3,120.31 212,121.52 212.7,122.81 213.4,124.17 214.1,125.6 214.8,127.09 215.5,128.64 216.2,130.23 216.9,131.86 217.6,133.52 218.3,135.21 219,136.93 219.7,138.66 220.4,140.41 221.1,142.16 221.8,143.92 222.5,145.69 223.2,147.45 223.9,149.21 224.6,150.97 225.3,152.72 226,154.47 226.7,156.21 227.4,157.95 228.1,159.68 228.8,161.41 229.5,163.14 230.2,164.87 230.9,166.6 231.6,168.33 232.3,170.06 233,171.79 233.7,173.53 234.4,175.28 235.1,177.03 235.8,178.78 236.5,180.54 237.2,182.31 237.9,184.07 238.6,185.83 239.3,187.59 240,189.34 240.7,191.08 241.4,192.81 242.1,194.51 242.8,196.2 243.5,197.85 244.2,199.46 244.9,201.03 245.6,202.55 246.3,204.02 247,205.42 247.7,206.75 248.4,208.01 249.1,209.18 249.8,210.27 250.5,211.26 251.2,212.15 251.9,212.93 252.6,213.6 253.3,214.16 254,214.6 254.7,214.93 255.4,215.12 256.1,215.2 256.8,215.15 257.5,214.98 258.2,214.68 258.9,214.27 259.6,213.73 260.3,213.08 261,212.32 261.7,211.46 262.4,210.49 263.1,209.42 263.8,208.27 264.5,207.03 265.2,205.71 265.9,204.32 266.6,202.87 267.3,201.36 268,199.8 268.7,198.19 269.4,196.55 270.1,194.88 270.8,193.18 271.5,191.45 272.2,189.71 272.9,187.97 273.6,186.21 274.3,184.45 275,182.68 275.7,180.92 276.4,179.16 277.1,177.41 277.8,175.65 278.5,173.91 279.2,172.17 279.9,170.43 280.6,168.7 281.3,166.97 282,165.24 282.7,163.51 283.4,161.78 284.1,160.05 284.8,158.32 285.5,156.58 286.2,154.84 286.9,153.1 287.6,151.34 288.3,149.59 289,147.83 289.7,146.07 290.4,144.3 291.1,142.54 291.8,140.78 292.5,139.04 293.2,137.3 293.9,135.58 294.6,133.88 295.3,132.21 296,130.57 296.7,128.97 297.4,127.42 298.1,125.92 298.8,124.47 299.5,123.1 300.2,121.79 300.9,120.56 301.6,119.42 302.3,118.37 303,117.41 303.7,116.56 304.4,115.82 305.1,115.18 305.8,114.67 306.5,114.27 307.2,113.99 307.9,113.83 308.6,113.8 309.3,113.9 310,114.11 310.7,114.45 311.4,114.91 312.1,115.49 312.8,116.17 313.5,116.97 314.2,117.88 314.9,118.88 315.6,119.98 316.3,121.17 317,122.43 317.7,123.78 318.4,125.19 319.1,126.66 319.8,128.19 320.5,129.77 321.2,131.39 321.9,133.04 322.6,134.73 323.3,136.44 324,138.17 324.7,139.91 325.4,141.66 326.1,143.42 326.8,145.18 327.5,146.95 328.2,148.71 328.9,150.47 329.6,152.22 330.3,153.97 331,155.71 331.7,157.45 332.4,159.19 333.1,160.92 333.8,162.65 334.5,164.38 335.2,166.1 335.9,167.83 336.6,169.56 337.3,171.3 338,173.04 338.7,174.78 339.4,176.53 340.1,178.28 340.8,180.04 341.5,181.8 342.2,183.56 342.9,185.33 343.6,187.09 344.3,188.84 345,190.59 345.7,192.32 346.4,194.03 347.1,195.72 347.8,197.38 348.5,199 349.2,200.59 349.9,202.12 350.6,203.6 351.3,205.03 352,206.38 352.7,207.66 353.4,208.86 354.1,209.97 354.8,210.99 355.5,211.9 356.2,212.72 356.9,213.42 357.6,214.02 358.3,214.49 359,214.85 359.7,215.08 360.4,215.19 361.1,215.18 361.8,215.04 362.5,214.78 363.2,214.4 363.9,213.9 364.6,213.28 365.3,212.55 366,211.72 366.7,210.78 367.4,209.74 368.1,208.61 368.8,207.39 369.5,206.1 370.2,204.73 370.9,203.29 371.6,201.8 372.3,200.25 373,198.66 373.7,197.02 374.4,195.36 375.1,193.66 375.8,191.95 376.5,190.21 377.2,188.47 377.9,186.71 378.6,184.95 379.3,183.19 380,181.42 380.7,179.66 381.4,177.91 382.1,176.15 382.8,174.41 383.5,172.66 384.2,170.93 384.9,169.19 385.6,167.46 386.3,165.73 387,164.01 387.7,162.28 388.4,160.55 389.1,158.82 389.8,157.08 390.5,155.34 391.2,153.6 391.9,151.85 392.6,150.09 393.3,148.33 394,146.57 394.7,144.81 395.4,143.04 396.1,141.29 396.8,139.53 397.5,137.79 398.2,136.07 398.9,134.37 399.6,132.69 400.3,131.04 401,129.43 401.7,127.86 402.4,126.34 403.1,124.88 403.8,123.48 404.5,122.15 405.2,120.9 405.9,119.74 406.6,118.66 407.3,117.68 408,116.79 408.7,116.02 409.4,115.35 410.1,114.8 410.8,114.37 411.5,114.06 412.2,113.87 412.9,113.8 413.6,113.86 414.3,114.04 415,114.34 415.7,114.77 416.4,115.31 417.1,115.97 417.8,116.73 418.5,117.61 419.2,118.58 419.9,119.66 420.6,120.82 421.3,122.06 422,123.39 422.7,124.78 423.4,126.24 424.1,127.75 424.8,129.31 425.5,130.92 426.2,132.57 426.9,134.24 427.6,135.95 428.3,137.67 429,139.41 429.7,141.16 430.4,142.92 431.1,144.68 431.8,146.44 432.5,148.21 433.2,149.96 433.9,151.72 434.6,153.47 435.3,155.22 436,156.96 436.7,158.69 437.4,160.43 438.1,162.16 438.8,163.88 439.5,165.61 440.2,167.34 440.9,169.07 441.6,170.8 442.3,172.54 443,174.28 443.7,176.03 444.4,177.78 445.1,179.54 445.8,181.3 446.5,183.06 447.2,184.82 447.9,186.58 448.6,188.34 449.3,190.09 450,191.82 450.7,193.54 451.4,195.24 452.1,196.91 452.8,198.54 453.5,200.14 454.2,201.69 454.9,203.19 455.6,204.63 456.3,206 457,207.3 457.7,208.52 458.4,209.66 459.1,210.7 459.8,211.65 460.5,212.5 461.2,213.23 461.9,213.86 462.6,214.37 463.3,214.76 464,215.03 464.7,215.17 465.4,215.19 466.1,215.09 466.8,214.87 467.5,214.52 468.2,214.05 468.9,213.47 469.6,212.77 470.3,211.97 471,211.05 471.7,210.04 472.4,208.94 473.1,207.75 473.8,206.47 474.5,205.12 475.2,203.71 475.9,202.23 476.6,200.7 477.3,199.12 478,197.49 478.7,195.84 479.4,194.15 480.1,192.44 480.8,190.71 481.5,188.97 482.2,187.21 482.9,185.45 483.6,183.69 484.3,181.93 485,180.17 485.7,178.41 486.4,176.65 487.1,174.91 487.8,173.16 488.5,171.42 489.2,169.69 489.9,167.96 490.6,166.23 491.3,164.5 492,162.77 492.7,161.04 493.4,159.31 494.1,157.58 494.8,155.84 495.5,154.09 496.2,152.35 496.9,150.59 497.6,148.83 498.3,147.07 499,145.31 499.7,143.55 500.4,141.79 501.1,140.03 501.8,138.29 502.5,136.56 503.2,134.85 503.9,133.16 504.6,131.51 505.3,129.88 506,128.3 506.7,126.77 507.4,125.29 508.1,123.88 508.8,122.53 509.5,121.25 510.2,120.06 510.9,118.96 511.6,117.95 512.3,117.03 513,116.23 513.7,115.53 514.4,114.95 515.1,114.48 515.8,114.13 516.5,113.91 517.2,113.81 517.9,113.83 518.6,113.97 519.3,114.24 520,114.63 520.7,115.14 521.4,115.77 522.1,116.5 522.8,117.35 523.5,118.3 524.2,119.34 524.9,120.48 525.6,121.7 526.3,123 527,124.37 527.7,125.81 528.4,127.31 529.1,128.86 529.8,130.46 530.5,132.09 531.2,133.76 531.9,135.46 532.6,137.18 533.3,138.91 534,140.66 534.7,142.42 535.4,144.18 536.1,145.94 536.8,147.7 537.5,149.46 538.2,151.22 538.9,152.97 539.6,154.72 540.3,156.46 541,158.2 541.7,159.93 542.4,161.66" fill="none" stroke="#c000c8" stroke-width="3.8" stroke-linejoin="round"/><polyline points="20.2,164.01 20.9,164.46 21.6,166.35 22.3,166.84 23,170.05 23.7,172.81 24.4,171.49 25.1,172.87 25.8,174.5 26.5,179.33 27.2,179.79 27.9,180.71 28.6,184.6 29.3,184.05 30,187.84 30.7,188.16 31.4,188.45 32.1,191.96 32.8,192.17 33.5,194.61 34.2,198.9 34.9,197.81 35.6,201.49 36.3,201.71 37,202 37.7,204.53 38.4,207.97 39.1,208.94 39.8,210.03 40.5,211.66 41.2,211.88 41.9,210.17 42.6,211.64 43.3,213.15 44,214.22 44.7,213.12 45.4,213.86 46.1,216.72 46.8,216.63 47.5,213.69 48.2,214.08 48.9,216.05 49.6,213.23 50.3,212.95 51,213.81 51.7,211.54 52.4,211.64 53.1,210.42 53.8,209.37 54.5,209.37 55.2,206.21 55.9,207.84 56.6,203.12 57.3,204.37 58,200.41 58.7,201.99 59.4,200 60.1,197.96 60.8,195.28 61.5,194.18 62.2,192.51 62.9,190.99 63.6,189.58 64.3,187.27 65,183.63 65.7,183.82 66.4,182.43 67.1,181.5 67.8,177.41 68.5,175.16 69.2,174.44 69.9,173.54 70.6,172.33 71.3,169 72,166.33 72.7,167.3 73.4,163.41 74.1,161.68 74.8,161.27 75.5,160.35 76.2,155.72 76.9,153.86 77.6,153.12 78.3,150.72 79,151.59 79.7,146.87 80.4,147.31 81.1,146.79 81.8,143.2 82.5,141.43 83.2,138.92 83.9,138.12 84.6,135.91 85.3,133.05 86,131.53 86.7,132.82 87.4,131.09 88.1,127.94 88.8,127.39 89.5,125.91 90.2,125.49 90.9,123.44 91.6,122.42 92.3,119.67 93,118.76 93.7,116.16 94.4,116.29 95.1,114.79 95.8,116.73 96.5,114.85 97.2,113.37 97.9,114.96 98.6,115.18 99.3,113.35 100,112.74 100.7,114.1 101.4,114.43 102.1,112.91 102.8,114.85 103.5,115.83 104.2,116.76 104.9,119.08 105.6,117.03 106.3,121.01 107,119.48 107.7,120.48 108.4,122.04 109.1,123.9 109.8,124.53 110.5,127.57 111.2,129.2 111.9,130.36 112.6,131.21 113.3,134.12 114,137.05 114.7,138.6 115.4,138.46 116.1,142.79 116.8,141.68 117.5,142.9 118.2,147.29 118.9,148.65 119.6,150.4 120.3,150.02 121,153.23 121.7,153.34 122.4,156.9 123.1,157.11 123.8,161.46 124.5,160.38 125.2,163.49 125.9,165.24 126.6,167.47 127.3,170.12 128,171.46 128.7,171.03 129.4,175.52 130.1,177.14 130.8,177.91 131.5,180.44 132.2,181.97 132.9,182.45 133.6,185.31 134.3,185.98 135,187.49 135.7,189.29 136.4,190.56 137.1,192.68 137.8,195.12 138.5,197.21 139.2,200.13 139.9,200.82 140.6,199.77 141.3,201.46 142,204.61 142.7,206.07 143.4,208.29 144.1,209.33 144.8,208.22 145.5,210.54 146.2,213.21 146.9,212.75 147.6,213.72 148.3,214.59 149,213.34 149.7,215.67 150.4,215.93 151.1,216.84 151.8,214.93 152.5,214.15 153.2,215.75 153.9,215.77 154.6,214.6 155.3,211.87 156,212.66 156.7,211.19 157.4,212.24 158.1,211.9 158.8,207.64 159.5,208.39 160.2,207.36 160.9,205.83 161.6,202.97 162.3,203.88 163,200.05 163.7,197.84 164.4,196.17 165.1,196.57 165.8,193.3 166.5,193.96 167.2,192.13 167.9,188.13 168.6,188.63 169.3,187.55 170,184.87 170.7,181.68 171.4,178.82 172.1,178.6 172.8,177.95 173.5,175.77 174.2,174.26 174.9,170.32 175.6,169.43 176.3,168.47 177,168.04 177.7,164.01 178.4,164.66 179.1,160.77 179.8,159.17 180.5,158.07 181.2,157.36 181.9,155.32 182.6,150.79 183.3,151.1 184,150.24 184.7,148.41 185.4,146.46 186.1,144.31 186.8,142.6 187.5,141.29 188.2,138.14 188.9,137.46 189.6,135.93 190.3,133.06 191,133.08 191.7,131.58 192.4,128.62 193.1,126.69 193.8,126.41 194.5,122.82 195.2,121.93 195.9,120.71 196.6,121.27 197.3,118.95 198,116.33 198.7,116.09 199.4,116.69 200.1,114.8 200.8,114.31 201.5,114.46 202.2,115.74 202.9,115.66 203.6,112.11 204.3,113.38 205,113.09 205.7,113.21 206.4,114.08 207.1,115.46 207.8,115 208.5,116.45 209.2,116.34 209.9,119.18 210.6,120.49 211.3,119.44 212,121.44 212.7,123.14 213.4,125.27 214.1,124.06 214.8,127.26 215.5,129.89 216.2,128.62 216.9,132.67 217.6,132.03 218.3,136.98 219,135.09 219.7,137.67 220.4,138.56 221.1,141.06 221.8,143.46 222.5,145.07 223.2,146.53 223.9,148.57 224.6,151.81 225.3,151.18 226,155.14 226.7,155.84 227.4,156.4 228.1,158.26 228.8,163 229.5,163.7 230.2,164.44 230.9,164.77 231.6,170.15 232.3,170.47 233,171.2 233.7,173.07 234.4,176.51 235.1,178.04 235.8,178.23 236.5,181.35 237.2,183.12 237.9,185.75 238.6,184.26 239.3,188.33 240,188.82 240.7,192.87 241.4,192.97 242.1,193.62 242.8,197.4 243.5,199.07 244.2,198.48 244.9,199.84 245.6,200.78 246.3,205.68 247,206.07 247.7,207.1 248.4,206.87 249.1,208.75 249.8,210.34 250.5,210.62 251.2,212.79 251.9,213.31 252.6,214.07 253.3,215.11 254,215.88 254.7,214.68 255.4,215.22 256.1,216.73 256.8,216 257.5,215.35 258.2,215.04 258.9,214.07 259.6,212.04 260.3,212.1 261,211.33 261.7,213.22 262.4,210.19 263.1,210.36 263.8,206.75 264.5,207.17 265.2,204.74 265.9,202.67 266.6,202.48 267.3,199.64 268,199.07 268.7,200 269.4,195.78 270.1,193.73 270.8,193.07 271.5,193.33 272.2,188.55 272.9,186.48 273.6,187.72 274.3,183.07 275,182.48 275.7,180.19 276.4,177.96 277.1,178.5 277.8,177.11 278.5,173.16 279.2,171.32 279.9,172.26 280.6,168.81 281.3,166.15 282,163.68 282.7,162.55 283.4,160.6 284.1,158.29 284.8,157.89 285.5,155.37 286.2,154.31 286.9,153.16 287.6,152.04 288.3,148.36 289,148.24 289.7,147.1 290.4,143.3 291.1,142.84 291.8,141.15 292.5,140.45 293.2,135.48 293.9,135.36 294.6,132.27 295.3,132.38 296,129.24 296.7,128.27 297.4,126.53 298.1,127.13 298.8,123.19 299.5,124.18 300.2,121.28 300.9,118.83 301.6,121.26 302.3,119.29 303,118.89 303.7,115.8 304.4,114.06 305.1,116.07 305.8,114.86 306.5,115.9 307.2,115.81 307.9,113.47 308.6,113.21 309.3,114.24 310,113.71 310.7,115.51 311.4,113.71 312.1,114.37 312.8,115.45 313.5,117.65 314.2,117.43 314.9,118.36 315.6,118.78 316.3,122.77 317,121.91 317.7,123.25 318.4,126.73 319.1,126.23 319.8,127.53 320.5,128.09 321.2,129.65 321.9,131.27 322.6,134.89 323.3,135.53 324,136.83 324.7,140.71 325.4,143.05 326.1,142.84 326.8,143.39 327.5,148.11 328.2,149.35 328.9,151.18 329.6,153.61 330.3,152.42 331,154.05 331.7,157.44 332.4,158.82 333.1,161.54 333.8,162.05 334.5,164.69 335.2,166.86 335.9,167.32 336.6,167.88 337.3,171.18 338,171.24 338.7,175.03 339.4,175.34 340.1,180 340.8,181.71 341.5,182.26 342.2,182.72 342.9,184.88 343.6,185.71 344.3,188.31 345,189.42 345.7,191.31 346.4,193.63 347.1,196.29 347.8,197.61 348.5,198.37 349.2,199.88 349.9,202.83 350.6,202.32 351.3,205.27 352,207.32 352.7,206.71 353.4,208.91 354.1,208.34 354.8,209.52 355.5,211.83 356.2,214.12 356.9,213.45 357.6,214.83 358.3,213.84 359,216.14 359.7,214.78 360.4,216.44 361.1,214.71 361.8,213.85 362.5,216.45 363.2,215.11 363.9,213.51 364.6,211.58 365.3,210.82 366,213.58 366.7,208.99 367.4,209.26 368.1,209.89 368.8,207.84 369.5,205.68 370.2,205.86 370.9,201.81 371.6,201.75 372.3,198.43 373,199.13 373.7,196.96 374.4,193.66 375.1,192.94 375.8,191.88 376.5,191.6 377.2,189.63 377.9,186.9 378.6,184.11 379.3,185.06 380,182.27 380.7,178.41 381.4,177.37 382.1,176.21 382.8,176.14 383.5,173.84 384.2,170.55 384.9,170.2 385.6,169.16 386.3,164.79 387,164.3 387.7,161.78 388.4,160.04 389.1,157.98 389.8,155.55 390.5,154.25 391.2,154.28 391.9,150.5 392.6,148.24 393.3,147.66 394,145.45 394.7,145.77 395.4,142.78 396.1,140.94 396.8,138.68 397.5,137.12 398.2,137.92 398.9,133.9 399.6,133.13 400.3,131.52 401,127.97 401.7,127.68 402.4,125.91 403.1,125.16 403.8,123.96 404.5,122.51 405.2,120.79 405.9,119.03 406.6,118.29 407.3,119.53 408,118.08 408.7,117.26 409.4,117.22 410.1,115.6 410.8,114.2 411.5,112.91 412.2,112.25 412.9,113.77 413.6,115.2 414.3,115.57 415,113.84 415.7,114.18 416.4,113.86 417.1,117.29 417.8,115.12 418.5,118.1 419.2,117.44 419.9,117.82 420.6,121.31 421.3,122.8 422,124.12 422.7,123.33 423.4,125.7 424.1,128.47 424.8,128.6 425.5,131.42 426.2,132.22 426.9,135.91 427.6,134.95 428.3,139.08 429,140.08 429.7,140.74 430.4,142.72 431.1,143.85 431.8,145.66 432.5,147.24 433.2,151.46 433.9,151.12 434.6,153.81 435.3,156.72 436,156.48 436.7,158.1 437.4,158.62 438.1,161.63 438.8,164.53 439.5,167.41 440.2,168.58 440.9,170.95 441.6,170.43 442.3,174.39 443,172.93 443.7,174.45 444.4,178.25 445.1,180.71 445.8,179.86 446.5,184.42 447.2,183.03 447.9,186.71 448.6,187.59 449.3,190.34 450,191.87 450.7,192.58 451.4,194.17 452.1,196.75 452.8,199.87 453.5,200.23 454.2,203.06 454.9,201.34 455.6,205.51 456.3,206.12 457,206.55 457.7,209.84 458.4,208.07 459.1,212.29 459.8,212.23 460.5,212.75 461.2,212.83 461.9,212.94 462.6,214.28 463.3,214.57 464,213.37 464.7,214.79 465.4,214.71 466.1,214.07 466.8,213.01 467.5,212.66 468.2,213.55 468.9,212.72 469.6,212.07 470.3,212.92 471,210.12 471.7,209.76 472.4,208.13 473.1,209.58 473.8,205.78 474.5,205.66 475.2,202 475.9,203.85 476.6,202.34 477.3,197.25 478,198.17 478.7,194.23 479.4,195.1 480.1,192.2 480.8,191.6 481.5,190.23 482.2,185.75 482.9,187.17 483.6,182.6 484.3,183.21 485,180.06 485.7,177.95 486.4,176.63 487.1,175.96 487.8,171.9 488.5,170.84 489.2,170.03 489.9,168.24 490.6,166.54 491.3,163.85 492,161.87 492.7,160.13 493.4,158.85 494.1,158.02 494.8,157.39 495.5,153.08 496.2,151.61 496.9,151.34 497.6,148.2 498.3,148.07 499,146.38 499.7,143.68 500.4,142.79 501.1,141.64 501.8,140 502.5,137.91 503.2,133.9 503.9,132.23 504.6,130.11 505.3,129.07 506,129.72 506.7,128.11 507.4,126.18 508.1,125.46 508.8,120.84 509.5,122.34 510.2,119.57 510.9,118.98 511.6,116.93 512.3,118.7 513,117.75 513.7,114.09 514.4,116.35 515.1,112.85 515.8,115.96 516.5,114.98 517.2,113.91 517.9,113.28 518.6,114.75 519.3,112.65 520,116.42 520.7,114.39 521.4,117.43 522.1,118.11 522.8,115.53 523.5,119 524.2,120.98 524.9,122.21 525.6,123.09 526.3,121.23 527,124.45 527.7,126.98 528.4,128.42 529.1,128.51 529.8,128.62 530.5,132.42 531.2,134.42 531.9,136.9 532.6,136.24 533.3,138.28 534,139.75 534.7,143.84 535.4,143.43 536.1,146.6 536.8,146.11 537.5,148.4 538.2,150.73 538.9,154.82 539.6,155.81 540.3,157.56 541,158.55 541.7,161.13 542.4,161.21" fill="none" stroke="#700080" stroke-width="0.9" stroke-opacity="0.6"/><polygon points="20.2,158.97 20.9,159.09 21.6,164.09 22.3,165.31 23,168.03 23.7,169.9 24.4,172.63 25.1,174.85 25.8,176.24 26.5,176.96 27.2,178.17 27.9,180.56 28.6,185.75 29.3,184.9 30,189.99 30.7,192.33 31.4,194.51 32.1,196.56 32.8,198.68 33.5,200.89 34.2,201.53 34.9,203.33 35.6,206.96 36.3,205.92 37,208 37.7,212.36 38.4,214.2 39.1,213.65 39.8,217.31 40.5,216.08 41.2,219.44 41.9,221.13 42.6,221.07 43.3,223.07 44,223.6 44.7,222.52 45.4,224.91 46.1,224.81 46.8,224.05 47.5,223.72 48.2,225.22 48.9,224.62 49.6,221.32 50.3,222.56 51,222.91 51.7,218.97 52.4,220.8 53.1,220.01 53.8,218.64 54.5,216.28 55.2,215.76 55.9,213.93 56.6,212.55 57.3,210.2 58,208.96 58.7,205.25 59.4,204.99 60.1,201.18 60.8,198.8 61.5,195.97 62.2,196.8 62.9,194.29 63.6,191.17 64.3,189.64 65,187.3 65.7,184.66 66.4,183.45 67.1,180.46 67.8,179.01 68.5,177.18 69.2,175 69.9,172.67 70.6,170.65 71.3,168.31 72,166.38 72.7,164.24 73.4,161.54 74.1,156.95 74.8,155.97 75.5,155.64 76.2,150.51 76.9,151.18 77.6,149.16 78.3,146.98 79,144.63 79.7,142.54 80.4,137.41 81.1,138.18 81.8,135.81 82.5,133.46 83.2,131.68 83.9,129.44 84.6,127.38 85.3,122.47 86,123.1 86.7,121.02 87.4,118.19 88.1,117.14 88.8,114.73 89.5,112.92 90.2,110.27 90.9,109.96 91.6,106.06 92.3,105.37 93,104.41 93.7,101.81 94.4,101.17 95.1,100.34 95.8,100.3 96.5,99.12 97.2,99.8 97.9,99.64 98.6,97.69 99.3,97.53 100,99.45 100.7,96.27 101.4,97.98 102.1,97.58 102.8,101.09 103.5,101.19 104.2,102.08 104.9,103.78 105.6,104.52 106.3,106.47 107,107.17 107.7,109.26 108.4,111.06 109.1,110.22 109.8,114.53 110.5,115.02 111.2,118.35 111.9,120.37 112.6,122.42 113.3,124.5 114,124.32 114.7,127.04 115.4,130.91 116.1,132.01 116.8,132.14 117.5,137.45 118.2,139.61 118.9,141.7 119.6,142.07 120.3,145.93 121,147.68 121.7,150.34 122.4,152.69 123.1,154.5 123.8,156.68 124.5,158.91 125.2,161.31 125.9,163.28 126.6,165.56 127.3,167.69 128,169.92 128.7,169.28 129.4,173.89 130.1,175.4 130.8,177.27 131.5,180.77 132.2,182.74 132.9,185.05 133.6,186.01 134.3,189.48 135,190.8 135.7,193.89 136.4,195.81 137.1,194.89 137.8,200.29 138.5,201.97 139.2,204.36 139.9,206.4 140.6,208.24 141.3,207.09 142,211.79 142.7,213.62 143.4,212.7 144.1,216.86 144.8,217.93 145.5,218.81 146.2,220.73 146.9,221.86 147.6,222.83 148.3,223.53 149,224.23 149.7,224.14 150.4,223.98 151.1,225.27 151.8,225.14 152.5,224.71 153.2,223.54 153.9,222.77 154.6,222.75 155.3,221.54 156,222.51 156.7,220.48 157.4,218.9 158.1,219.18 158.8,215.66 159.5,216.31 160.2,214.67 160.9,211.2 161.6,210.87 162.3,209.25 163,207.65 163.7,205.37 164.4,202.15 165.1,198.54 165.8,197.71 166.5,194.24 167.2,194.9 167.9,193.08 168.6,190.33 169.3,188.7 170,183.34 170.7,183.57 171.4,180.22 172.1,179.98 172.8,175.33 173.5,175.52 174.2,172.65 174.9,171.31 175.6,169.13 176.3,167 177,164.49 177.7,159.48 178.4,159.43 179.1,156.68 179.8,155.19 180.5,154.1 181.2,151.28 181.9,149.68 182.6,146.36 183.3,144.41 184,142.14 184.7,140.28 185.4,136.42 186.1,136.13 186.8,134.29 187.5,129.83 188.2,129.94 188.9,127.41 189.6,123.49 190.3,123.69 191,121.68 191.7,119.63 192.4,115.75 193.1,115.54 193.8,111.42 194.5,111.41 195.2,110.48 195.9,108.13 196.6,106.67 197.3,104.68 198,102.75 198.7,101.48 199.4,102.51 200.1,101.3 200.8,100.91 201.5,99.53 202.2,98.51 202.9,98.33 203.6,98.59 204.3,99.42 205,99.4 205.7,98.5 206.4,99.81 207.1,100.24 207.8,101.31 208.5,102.62 209.2,103.56 209.9,104.66 210.6,105.9 211.3,106.34 212,108.9 212.7,110.12 213.4,112.24 214.1,114 214.8,112.67 215.5,115.07 216.2,118 216.9,121.68 217.6,123.58 218.3,126.01 219,127.85 219.7,130.22 220.4,132.02 221.1,133.04 221.8,134.33 222.5,139.02 223.2,140.97 223.9,140.79 224.6,144.11 225.3,146.14 226,146.59 226.7,152.03 227.4,153.25 228.1,156.09 228.8,156.11 229.5,160.71 230.2,162.13 230.9,162.36 231.6,167.13 232.3,167.85 233,171.45 233.7,172.45 234.4,174.89 235.1,177.6 235.8,180.1 236.5,181.78 237.2,184.15 237.9,185.16 238.6,188.13 239.3,190.66 240,193.13 240.7,195.12 241.4,197.4 242.1,196.9 242.8,201.69 243.5,203.83 244.2,205.34 244.9,207.7 245.6,209.67 246.3,210.89 247,213.25 247.7,214.89 248.4,216.39 249.1,217.86 249.8,219.07 250.5,220.44 251.2,219.15 251.9,222.58 252.6,223.42 253.3,223.7 254,223.97 254.7,224.28 255.4,222.4 256.1,224.31 256.8,225.01 257.5,223.85 258.2,222.72 258.9,224.18 259.6,222.1 260.3,222.43 261,221.76 261.7,220.75 262.4,219.28 263.1,218.2 263.8,215.68 264.5,212.67 265.2,213.2 265.9,211.3 266.6,208.44 267.3,208.2 268,203.87 268.7,203.38 269.4,200.68 270.1,199.29 270.8,198.03 271.5,195.02 272.2,193.5 272.9,191.56 273.6,187.14 274.3,187.17 275,182.55 275.7,182.56 276.4,180 277.1,177.98 277.8,175.92 278.5,174.09 279.2,168.66 279.9,169.7 280.6,167.35 281.3,162.83 282,160.68 282.7,160.67 283.4,156.21 284.1,154.25 284.8,154.64 285.5,152.21 286.2,150.39 286.9,146.91 287.6,146.04 288.3,143.57 289,141.67 289.7,138.83 290.4,137.3 291.1,133.6 291.8,132.04 292.5,128.12 293.2,126.31 293.9,126.22 294.6,123.4 295.3,122.28 296,118.13 296.7,116.26 297.4,114.99 298.1,113.67 298.8,112.25 299.5,109.39 300.2,108.81 300.9,107.77 301.6,106.34 302.3,104.88 303,103.82 303.7,102.16 304.4,101.63 305.1,100.94 305.8,100.18 306.5,99.92 307.2,99.63 307.9,99.44 308.6,97.64 309.3,99.52 310,98.96 310.7,98.96 311.4,100.78 312.1,101.47 312.8,102.35 313.5,103.31 314.2,104.37 314.9,105.7 315.6,105.96 316.3,108.24 317,109.81 317.7,109.63 318.4,111.31 319.1,115.14 319.8,114.94 320.5,119.22 321.2,120.18 321.9,122.8 322.6,125.4 323.3,127.52 324,129.67 324.7,131.84 325.4,132.05 326.1,136.21 326.8,138.4 327.5,140.22 328.2,140.14 328.9,144.95 329.6,145.25 330.3,147.46 331,151.45 331.7,153.64 332.4,155.69 333.1,157.85 333.8,159.62 334.5,159.63 335.2,163.93 335.9,166.53 336.6,168.69 337.3,170.76 338,170.26 338.7,175.03 339.4,177.21 340.1,179.19 340.8,181.59 341.5,181.65 342.2,186.01 342.9,187.85 343.6,188.41 344.3,191.68 345,194.55 345.7,194.66 346.4,198.35 347.1,200.89 347.8,203.25 348.5,205.27 349.2,207.16 349.9,208.83 350.6,209.86 351.3,210.73 352,214.42 352.7,215.2 353.4,217.35 354.1,216.07 354.8,216.79 355.5,220 356.2,222.3 356.9,222.97 357.6,223.64 358.3,224.44 359,223.99 359.7,224.58 360.4,223.78 361.1,224.59 361.8,225.2 362.5,224.38 363.2,221.11 363.9,223.46 364.6,222.99 365.3,222.06 366,217.72 366.7,217.92 367.4,218.6 368.1,217.19 368.8,215.7 369.5,211.99 370.2,209.81 370.9,209.96 371.6,208.69 372.3,206.82 373,201.86 373.7,201.41 374.4,200.54 375.1,196.51 375.8,196.49 376.5,194.31 377.2,192.14 377.9,189.32 378.6,187.78 379.3,184.91 380,183.04 380.7,180.12 381.4,178.72 382.1,175.49 382.8,174.23 383.5,171.95 384.2,170.28 384.9,167.49 385.6,165.78 386.3,163.93 387,161.37 387.7,159.57 388.4,154.93 389.1,154.2 389.8,153.14 390.5,150.72 391.2,148.46 391.9,145.4 392.6,142.94 393.3,142.31 394,140 394.7,137.13 395.4,133.04 396.1,132.37 396.8,130.57 397.5,129.18 398.2,125.79 398.9,122.13 399.6,119.55 400.3,117.85 401,117.88 401.7,114.71 402.4,114.19 403.1,111.41 403.8,111.17 404.5,108.31 405.2,107.72 405.9,104.57 406.6,105.03 407.3,103.61 408,103.01 408.7,102.13 409.4,101.24 410.1,99.63 410.8,99.74 411.5,99.55 412.2,99.47 412.9,96.56 413.6,99.39 414.3,99.69 415,100.06 415.7,100.31 416.4,99.01 417.1,102.09 417.8,103.05 418.5,102.88 419.2,105.35 419.9,104.12 420.6,104.85 421.3,109.67 422,110.99 422.7,112.68 423.4,114.8 424.1,116.69 424.8,118.19 425.5,120.19 426.2,122.72 426.9,124.8 427.6,126.88 428.3,129.03 429,131.22 429.7,132.74 430.4,135.58 431.1,136.77 431.8,137.97 432.5,142.11 433.2,144.32 433.9,144.03 434.6,148.69 435.3,150.48 436,149.82 436.7,153.19 437.4,157.34 438.1,156.94 438.8,161.49 439.5,163.74 440.2,165.86 440.9,167.36 441.6,170.23 442.3,172.36 443,173.77 443.7,176.46 444.4,178.9 445.1,178.17 445.8,183.2 446.5,185.45 447.2,187.65 447.9,188.95 448.6,191.93 449.3,193.8 450,193.47 450.7,195.75 451.4,198.92 452.1,202.42 452.8,203.6 453.5,206.68 454.2,208.46 454.9,207.93 455.6,208.97 456.3,213.06 457,214.81 457.7,215.14 458.4,217.15 459.1,219.69 459.8,220.64 460.5,221.98 461.2,222.29 461.9,222.92 462.6,223.95 463.3,224.67 464,225.18 464.7,223.94 465.4,224.74 466.1,223.94 466.8,223.14 467.5,224.36 468.2,223.94 468.9,223.18 469.6,220.7 470.3,221.34 471,219.58 471.7,218.43 472.4,216.87 473.1,215.3 473.8,213.48 474.5,212.86 475.2,210.16 475.9,209.17 476.6,206.31 477.3,205.42 478,201.09 478.7,200.82 479.4,198.25 480.1,196.98 480.8,193.88 481.5,192.79 482.2,190.2 482.9,188.39 483.6,186.22 484.3,182.98 485,179.35 485.7,178.91 486.4,177.49 487.1,175.33 487.8,173.1 488.5,170.41 489.2,168.18 489.9,166.04 490.6,162.65 491.3,160.19 492,157.82 492.7,156.93 493.4,154.43 494.1,153.73 494.8,151.3 495.5,146.29 496.2,145.98 496.9,144.03 497.6,142.9 498.3,140.48 499,135.94 499.7,136.36 500.4,134.02 501.1,130.85 501.8,129.82 502.5,127.67 503.2,125.47 503.9,123.46 504.6,120.92 505.3,119.32 506,114.69 506.7,115.16 507.4,113.14 508.1,111.75 508.8,109.98 509.5,108.41 510.2,107.18 510.9,102.86 511.6,103.81 512.3,103.09 513,101.85 513.7,100.55 514.4,97.43 515.1,100.25 515.8,97.89 516.5,99.53 517.2,99.4 517.9,99.42 518.6,97.65 519.3,98.65 520,100.18 520.7,98.49 521.4,100.99 522.1,102.1 522.8,103.76 523.5,104.73 524.2,106.21 524.9,107.68 525.6,108.25 526.3,110.11 527,111.96 527.7,113.91 528.4,114.2 529.1,118.07 529.8,120.01 530.5,121.29 531.2,123.68 531.9,126.26 532.6,128.44 533.3,130.2 534,132.76 534.7,134.95 535.4,137.12 536.1,139.31 536.8,138.15 537.5,142.72 538.2,144.7 538.9,144.77 539.6,150.24 540.3,150.78 541,153.71 541.7,156.72 542.4,157.66 542.4,165.85 541.7,160.93 541,161.47 540.3,157.85 539.6,155.62 538.9,154.95 538.2,150.11 537.5,147.92 536.8,146.45 536.1,144.74 535.4,142.94 534.7,140.53 534,139.96 533.3,135.12 532.6,133.72 531.9,130.56 531.2,129.01 530.5,128.64 529.8,124.65 529.1,123.17 528.4,121.29 527.7,118.55 527,116.76 526.3,115.23 525.6,115.63 524.9,112.1 524.2,110.62 523.5,111.88 522.8,108.19 522.1,108.63 521.4,106.05 520.7,105.55 520,104.82 519.3,105.48 518.6,104.75 517.9,104.45 517.2,105.01 516.5,103.79 515.8,104.61 515.1,104.45 514.4,108.39 513.7,106.15 513,107.35 512.3,108.03 511.6,112.14 510.9,111.12 510.2,111.73 509.5,113.03 508.8,114.44 508.1,118.47 507.4,117.94 506.7,122.07 506,121.66 505.3,125.72 504.6,125.66 503.9,127.95 503.2,129.81 502.5,132.95 501.8,134.08 501.1,136.22 500.4,140.36 499.7,140.67 499,142.82 498.3,147.38 497.6,147.17 496.9,149.39 496.2,151.69 495.5,153.69 494.8,155.87 494.1,158.16 493.4,161.37 492.7,162.49 492,165.22 491.3,168.57 490.6,168.75 489.9,171.78 489.2,173.54 488.5,176.25 487.8,177.77 487.1,179.53 486.4,181.73 485.7,186.86 485,186.78 484.3,188.32 483.6,192.97 482.9,192.81 482.2,196.28 481.5,197.03 480.8,199.17 480.1,201.52 479.4,204.34 478.7,208.32 478,207.62 477.3,210.14 476.6,211.84 475.9,213.63 475.2,215.72 474.5,217.24 473.8,218.95 473.1,220.57 472.4,222.24 471.7,223.95 471,224.54 470.3,226.91 469.6,227.28 468.9,227.45 468.2,229.19 467.5,228.76 466.8,230.61 466.1,229.61 465.4,229.6 464.7,230.12 464,232.35 463.3,230.54 462.6,228.82 461.9,230.04 461.2,227.89 460.5,226.24 459.8,225.79 459.1,227.2 458.4,222.83 457.7,221.38 457,221 456.3,218.25 455.6,216.48 454.9,215.84 454.2,213.09 453.5,210.88 452.8,209.02 452.1,206.88 451.4,206.02 450.7,203.5 450,200.84 449.3,199.47 448.6,196.99 447.9,194.2 447.2,192.18 446.5,192.01 445.8,189.09 445.1,185.43 444.4,183.1 443.7,180.95 443,179.12 442.3,177.96 441.6,176.75 440.9,173.72 440.2,170.37 439.5,168.45 438.8,165.97 438.1,164.76 437.4,161.61 436.7,162.16 436,157.34 435.3,157.43 434.6,155.79 433.9,151.12 433.2,148.84 432.5,146.35 431.8,144.87 431.1,141.97 430.4,142.17 429.7,137.68 429,135.43 428.3,135.37 427.6,131.23 426.9,130.05 426.2,126.93 425.5,125.04 424.8,123.91 424.1,124.3 423.4,119.31 422.7,117.34 422,115.61 421.3,114.13 420.6,112.9 419.9,113.42 419.2,109.64 418.5,109.7 417.8,107.31 417.1,108.73 416.4,105.58 415.7,106.33 415,105.92 414.3,104.39 413.6,104.52 412.9,103.75 412.2,103.79 411.5,103.92 410.8,104.43 410.1,105.47 409.4,107.35 408.7,109.08 408,107.74 407.3,108.42 406.6,110.05 405.9,112.21 405.2,113.44 404.5,114.11 403.8,118.22 403.1,119.3 402.4,120.34 401.7,121.08 401,123.55 400.3,125.02 399.6,127.18 398.9,129.45 398.2,132.8 397.5,133.82 396.8,135.58 396.1,137.8 395.4,141.14 394.7,142.92 394,145.41 393.3,146.95 392.6,151.67 391.9,151.24 391.2,153.06 390.5,155.28 389.8,157.46 389.1,160.37 388.4,161.69 387.7,163.85 387,166.07 386.3,170.86 385.6,170.88 384.9,173.34 384.2,174.66 383.5,177.5 382.8,180.92 382.1,181.22 381.4,183.81 380.7,185.44 380,189.88 379.3,191.01 378.6,194.67 377.9,194.27 377.2,196.41 376.5,198.55 375.8,200.71 375.1,204.52 374.4,205.05 373.7,207.72 373,209.44 372.3,211.08 371.6,213.27 370.9,214.88 370.2,217.17 369.5,219.61 368.8,219.99 368.1,222.68 367.4,222.88 366.7,225.73 366,226.65 365.3,226.31 364.6,230.46 363.9,227.98 363.2,230.27 362.5,229.08 361.8,229.83 361.1,229.59 360.4,229.69 359.7,229.88 359,229.21 358.3,228.72 357.6,228.91 356.9,227.45 356.2,226.75 355.5,225.83 354.8,224.37 354.1,223.3 353.4,223.35 352.7,220.23 352,219 351.3,217.77 350.6,215.64 349.9,213.36 349.2,212.4 348.5,209.47 347.8,208.92 347.1,206.74 346.4,203.99 345.7,201.26 345,199.02 344.3,197.64 343.6,195.3 342.9,192.62 342.2,190.35 341.5,188.1 340.8,187.01 340.1,183.73 339.4,181.58 338.7,182.24 338,177.29 337.3,175.05 336.6,173.94 335.9,170.81 335.2,168.95 334.5,167.32 333.8,164.3 333.1,163.21 332.4,162.14 331.7,159.17 331,156.68 330.3,153.52 329.6,151.38 328.9,149.43 328.2,147.74 327.5,146.55 326.8,143.34 326.1,140.42 325.4,138.34 324.7,136.61 324,134.14 323.3,131.81 322.6,130.36 321.9,129.53 321.2,127 320.5,123.56 319.8,122.72 319.1,120.56 318.4,120.37 317.7,117.08 317,115.87 316.3,112.98 315.6,111.31 314.9,112.86 314.2,109.98 313.5,107.54 312.8,106.72 312.1,105.7 311.4,107.33 310.7,106.5 310,105.97 309.3,105.43 308.6,103.97 307.9,103.97 307.2,103.84 306.5,106.2 305.8,105.77 305.1,106.04 304.4,106.2 303.7,108.43 303,108.09 302.3,110.19 301.6,112.52 300.9,115.15 300.2,113.9 299.5,117.15 298.8,116.86 298.1,120.37 297.4,120.96 296.7,123.5 296,125.43 295.3,129.34 294.6,130.03 293.9,133.83 293.2,132.81 292.5,135.03 291.8,137.53 291.1,139.44 290.4,142.77 289.7,143.75 289,147.04 288.3,148.88 287.6,150.27 286.9,152.43 286.2,154.63 285.5,158.25 284.8,160.32 284.1,161.72 283.4,163.57 282.7,165.38 282,167.64 281.3,169.86 280.6,171.85 279.9,174.54 279.2,176.67 278.5,178.82 277.8,180.46 277.1,185.4 276.4,184.9 275.7,187.04 275,189.64 274.3,194.24 273.6,193.57 272.9,197.01 272.2,198.05 271.5,201.38 270.8,205.36 270.1,206.39 269.4,206.56 268.7,211.44 268,210.53 267.3,212.46 266.6,216.27 265.9,217.07 265.2,218.33 264.5,219.46 263.8,221.29 263.1,222.43 262.4,224.56 261.7,225.1 261,228.91 260.3,226.98 259.6,228.24 258.9,228.53 258.2,228.96 257.5,229.33 256.8,230.47 256.1,229.6 255.4,229.51 254.7,230.04 254,228.87 253.3,230.56 252.6,227.62 251.9,228.16 251.2,225.83 250.5,226.99 249.8,224.32 249.1,224.06 248.4,222.3 247.7,222.18 247,217.45 246.3,215.73 245.6,214.03 244.9,212.56 244.2,210.24 243.5,208.34 242.8,206 242.1,206.81 241.4,202.28 240.7,200.59 240,197.47 239.3,195.29 238.6,194.8 237.9,191.17 237.2,189.92 236.5,187.87 235.8,184.98 235.1,182.84 234.4,180.17 233.7,177.83 233,176.14 232.3,173.68 231.6,171.62 230.9,172.01 230.2,167.07 229.5,166.85 228.8,165.12 228.1,160.62 227.4,158.47 226.7,156.65 226,154.17 225.3,152.22 224.6,152.2 223.9,147.79 223.2,147.69 222.5,143.22 221.8,141.95 221.1,139.12 220.4,136.66 219.7,137.45 219,132.7 218.3,130.25 217.6,128.3 216.9,126.04 216.2,124.01 215.5,122.04 214.8,120.66 214.1,118.27 213.4,117.49 212.7,114.8 212,113.32 211.3,113.36 210.6,110.38 209.9,110.37 209.2,107.86 208.5,108.31 207.8,108.96 207.1,105.35 206.4,104.74 205.7,104.1 205,104.11 204.3,103.62 203.6,106.67 202.9,106.45 202.2,105.92 201.5,104.52 200.8,105.12 200.1,105.87 199.4,107.9 198.7,108.69 198,111.91 197.3,110.2 196.6,112.5 195.9,113.1 195.2,114.68 194.5,119.44 193.8,118.23 193.1,120.25 192.4,124.2 191.7,123.87 191,126.75 190.3,128.78 189.6,130.09 188.9,133.43 188.2,134.34 187.5,139.07 186.8,138.71 186.1,141.08 185.4,143.11 184.7,145.29 184,149.45 183.3,152.61 182.6,151.81 181.9,156.71 181.2,157.64 180.5,158.31 179.8,160.95 179.1,162.77 178.4,165.78 177.7,168.75 177,170.24 176.3,171.31 175.6,173.55 174.9,175.97 174.2,179.42 173.5,180.92 172.8,182.04 172.1,184.2 171.4,186.78 170.7,188.79 170,192.78 169.3,193.1 168.6,195.29 167.9,197.38 167.2,201.81 166.5,201.62 165.8,204 165.1,206.56 164.4,210.68 163.7,210.18 163,211.96 162.3,216.56 161.6,215.59 160.9,218.63 160.2,218.99 159.5,220.83 158.8,224.93 158.1,223.39 157.4,225.21 156.7,225.81 156,226.73 155.3,227.75 154.6,229.44 153.9,229.78 153.2,229.88 152.5,231.94 151.8,229.7 151.1,229.73 150.4,229.35 149.7,229.04 149,228.49 148.3,227.84 147.6,228.6 146.9,226.1 146.2,225.34 145.5,225.13 144.8,223.15 144.1,221.09 143.4,220.29 142.7,217.93 142,216.72 141.3,214.43 140.6,212.54 139.9,210.66 139.2,208.61 138.5,209.36 137.8,204.5 137.1,202.86 136.4,200.25 135.7,198.09 135,196.18 134.3,194.76 133.6,192.8 132.9,189.7 132.2,190.3 131.5,185.02 130.8,182.81 130.1,180.7 129.4,181.32 128.7,177.39 128,176.81 127.3,172.01 126.6,169.89 125.9,169.99 125.2,165.54 124.5,163.72 123.8,163.62 123.1,160.57 122.4,156.92 121.7,154.76 121,153.22 120.3,152.51 119.6,149.15 118.9,146.23 118.2,143.98 117.5,142.49 116.8,140.47 116.1,137.32 115.4,135.12 114.7,132.95 114,131.19 113.3,129.42 112.6,127.64 111.9,125.82 111.2,122.77 110.5,121.13 109.8,119.36 109.1,117.57 108.4,116.13 107.7,113.64 107,112.51 106.3,110.95 105.6,110.76 104.9,108.17 104.2,107.1 103.5,106.41 102.8,108 102.1,105.95 101.4,104.25 100.7,105.03 100,104.93 99.3,105.29 98.6,103.71 97.9,103.98 97.2,104.94 96.5,107.5 95.8,105.91 95.1,106.49 94.4,107.49 93.7,108.78 93,110.68 92.3,111.44 91.6,113.2 90.9,114.53 90.2,116.58 89.5,117.96 88.8,119.58 88.1,122.84 87.4,124.05 86.7,126.07 86,127.38 85.3,131.08 84.6,132.09 83.9,135.35 83.2,136.71 82.5,138.15 81.8,140.36 81.1,145.65 80.4,147.23 79.7,149.95 79,149.28 78.3,152.03 77.6,153.98 76.9,157.95 76.2,160.77 75.5,160.57 74.8,162.9 74.1,166.01 73.4,166.43 72.7,169.23 72,172.54 71.3,172.81 70.6,177.4 69.9,177.83 69.2,179.22 68.5,181.5 67.8,183.61 67.1,186.61 66.4,188.88 65.7,190.13 65,193.9 64.3,195.51 63.6,196.71 62.9,199.98 62.2,203 61.5,203.61 60.8,206.35 60.1,207.45 59.4,210.24 58.7,212.22 58,214.25 57.3,215.06 56.6,219.71 55.9,220.07 55.2,221.31 54.5,222.61 53.8,224.65 53.1,225.9 52.4,225.56 51.7,229.45 51,227.34 50.3,228.45 49.6,229 48.9,232.53 48.2,231.48 47.5,229.59 46.8,232.49 46.1,231.42 45.4,231.72 44.7,228.96 44,228.08 43.3,230.54 42.6,229.75 41.9,225.35 41.2,224.29 40.5,223.04 39.8,221.65 39.1,220.01 38.4,219.83 37.7,217.2 37,217.78 36.3,213.11 35.6,211.16 34.9,209.35 34.2,209.21 33.5,208.25 32.8,203.37 32.1,202.72 31.4,199.76 30.7,196.63 30,194.37 29.3,194.59 28.6,192.81 27.9,188.32 27.2,187.86 26.5,183.45 25.8,181.24 25.1,180.79 24.4,179.52 23.7,174.74 23,172.64 22.3,172.92 21.6,168.63 20.9,167.52 20.2,165.38" fill="#04c8c8"/><polyline points="20.2,161.89 20.9,164.04 21.6,166.19 22.3,168.33 23,170.49 23.7,172.64 24.4,174.8 25.1,176.96 25.8,179.14 26.5,181.31 27.2,183.5 27.9,185.69 28.6,187.88 29.3,190.07 30,192.25 30.7,194.44 31.4,196.61 32.1,198.76 32.8,200.89 33.5,202.99 34.2,205.06 34.9,207.09 35.6,209.06 36.3,210.98 37,212.83 37.7,214.61 38.4,216.3 39.1,217.91 39.8,219.41 40.5,220.81 41.2,222.09 41.9,223.25 42.6,224.28 43.3,225.18 44,225.93 44.7,226.54 45.4,227.01 46.1,227.32 46.8,227.48 47.5,227.48 48.2,227.33 48.9,227.03 49.6,226.58 50.3,225.98 51,225.23 51.7,224.35 52.4,223.33 53.1,222.18 53.8,220.9 54.5,219.52 55.2,218.02 55.9,216.42 56.6,214.73 57.3,212.96 58,211.12 58.7,209.2 59.4,207.23 60.1,205.21 60.8,203.14 61.5,201.04 62.2,198.91 62.9,196.76 63.6,194.59 64.3,192.41 65,190.22 65.7,188.03 66.4,185.84 67.1,183.65 67.8,181.47 68.5,179.29 69.2,177.12 69.9,174.95 70.6,172.79 71.3,170.64 72,168.49 72.7,166.34 73.4,164.19 74.1,162.05 74.8,159.9 75.5,157.75 76.2,155.59 76.9,153.43 77.6,151.26 78.3,149.09 79,146.91 79.7,144.72 80.4,142.53 81.1,140.34 81.8,138.15 82.5,135.97 83.2,133.79 83.9,131.62 84.6,129.48 85.3,127.36 86,125.26 86.7,123.21 87.4,121.2 88.1,119.24 88.8,117.35 89.5,115.52 90.2,113.77 90.9,112.11 91.6,110.54 92.3,109.08 93,107.72 93.7,106.48 94.4,105.37 95.1,104.38 95.8,103.54 96.5,102.83 97.2,102.27 97.9,101.86 98.6,101.61 99.3,101.5 100,101.55 100.7,101.76 101.4,102.11 102.1,102.62 102.8,103.27 103.5,104.07 104.2,105 104.9,106.07 105.6,107.26 106.3,108.58 107,110.01 107.7,111.54 108.4,113.17 109.1,114.89 109.8,116.69 110.5,118.56 111.2,120.5 111.9,122.49 112.6,124.53 113.3,126.6 114,128.72 114.7,130.85 115.4,133.01 116.1,135.19 116.8,137.37 117.5,139.56 118.2,141.75 118.9,143.94 119.6,146.13 120.3,148.31 121,150.48 121.7,152.65 122.4,154.82 123.1,156.98 123.8,159.13 124.5,161.28 125.2,163.43 125.9,165.57 126.6,167.72 127.3,169.87 128,172.02 128.7,174.18 129.4,176.35 130.1,178.52 130.8,180.69 131.5,182.87 132.2,185.06 132.9,187.25 133.6,189.44 134.3,191.63 135,193.81 135.7,195.99 136.4,198.15 137.1,200.28 137.8,202.4 138.5,204.47 139.2,206.51 139.9,208.5 140.6,210.44 141.3,212.31 142,214.11 142.7,215.83 143.4,217.46 144.1,218.99 144.8,220.42 145.5,221.74 146.2,222.93 146.9,224 147.6,224.93 148.3,225.73 149,226.38 149.7,226.89 150.4,227.24 151.1,227.45 151.8,227.5 152.5,227.39 153.2,227.14 153.9,226.73 154.6,226.17 155.3,225.46 156,224.62 156.7,223.63 157.4,222.52 158.1,221.28 158.8,219.92 159.5,218.46 160.2,216.89 160.9,215.23 161.6,213.48 162.3,211.65 163,209.76 163.7,207.8 164.4,205.79 165.1,203.74 165.8,201.64 166.5,199.52 167.2,197.38 167.9,195.21 168.6,193.03 169.3,190.85 170,188.66 170.7,186.47 171.4,184.28 172.1,182.09 172.8,179.91 173.5,177.74 174.2,175.57 174.9,173.41 175.6,171.25 176.3,169.1 177,166.95 177.7,164.81 178.4,162.66 179.1,160.51 179.8,158.36 180.5,156.21 181.2,154.05 181.9,151.88 182.6,149.71 183.3,147.53 184,145.35 184.7,143.16 185.4,140.97 186.1,138.78 186.8,136.59 187.5,134.41 188.2,132.24 188.9,130.09 189.6,127.96 190.3,125.86 191,123.79 191.7,121.77 192.4,119.8 193.1,117.88 193.8,116.04 194.5,114.27 195.2,112.58 195.9,110.98 196.6,109.48 197.3,108.1 198,106.82 198.7,105.67 199.4,104.65 200.1,103.77 200.8,103.02 201.5,102.42 202.2,101.97 202.9,101.67 203.6,101.52 204.3,101.52 205,101.68 205.7,101.99 206.4,102.46 207.1,103.07 207.8,103.82 208.5,104.72 209.2,105.75 209.9,106.91 210.6,108.19 211.3,109.59 212,111.09 212.7,112.7 213.4,114.39 214.1,116.17 214.8,118.02 215.5,119.94 216.2,121.91 216.9,123.94 217.6,126.01 218.3,128.11 219,130.24 219.7,132.39 220.4,134.56 221.1,136.75 221.8,138.93 222.5,141.12 223.2,143.31 223.9,145.5 224.6,147.69 225.3,149.86 226,152.04 226.7,154.2 227.4,156.36 228.1,158.51 228.8,160.67 229.5,162.81 230.2,164.96 230.9,167.11 231.6,169.26 232.3,171.41 233,173.56 233.7,175.73 234.4,177.89 235.1,180.07 235.8,182.25 236.5,184.44 237.2,186.62 237.9,188.82 238.6,191.01 239.3,193.19 240,195.37 240.7,197.53 241.4,199.68 242.1,201.8 242.8,203.88 243.5,205.94 244.2,207.94 244.9,209.89 245.6,211.78 246.3,213.6 247,215.35 247.7,217 248.4,218.57 249.1,220.02 249.8,221.37 250.5,222.6 251.2,223.71 251.9,224.68 252.6,225.52 253.3,226.21 254,226.76 254.7,227.16 255.4,227.41 256.1,227.5 256.8,227.44 257.5,227.22 258.2,226.86 258.9,226.34 259.6,225.68 260.3,224.87 261,223.93 261.7,222.85 262.4,221.65 263.1,220.32 263.8,218.89 264.5,217.35 265.2,215.71 265.9,213.98 266.6,212.18 267.3,210.3 268,208.36 268.7,206.37 269.4,204.33 270.1,202.25 270.8,200.13 271.5,197.99 272.2,195.83 272.9,193.66 273.6,191.47 274.3,189.28 275,187.09 275.7,184.9 276.4,182.72 277.1,180.54 277.8,178.36 278.5,176.19 279.2,174.03 279.9,171.87 280.6,169.72 281.3,167.57 282,165.42 282.7,163.27 283.4,161.13 284.1,158.98 284.8,156.82 285.5,154.66 286.2,152.5 286.9,150.33 287.6,148.15 288.3,145.97 289,143.78 289.7,141.59 290.4,139.4 291.1,137.21 291.8,135.03 292.5,132.86 293.2,130.7 293.9,128.56 294.6,126.45 295.3,124.38 296,122.34 296.7,120.36 297.4,118.42 298.1,116.56 298.8,114.76 299.5,113.05 300.2,111.43 300.9,109.9 301.6,108.48 302.3,107.18 303,105.99 303.7,104.93 304.4,104.01 305.1,103.22 305.8,102.58 306.5,102.08 307.2,101.74 307.9,101.54 308.6,101.5 309.3,101.62 310,101.89 310.7,102.31 311.4,102.88 312.1,103.59 312.8,104.45 313.5,105.44 314.2,106.57 314.9,107.81 315.6,109.18 316.3,110.65 317,112.23 317.7,113.9 318.4,115.65 319.1,117.48 319.8,119.38 320.5,121.34 321.2,123.36 321.9,125.41 322.6,127.51 323.3,129.63 324,131.78 324.7,133.94 325.4,136.12 326.1,138.31 326.8,140.5 327.5,142.69 328.2,144.88 328.9,147.06 329.6,149.24 330.3,151.42 331,153.58 331.7,155.74 332.4,157.9 333.1,160.05 333.8,162.2 334.5,164.35 335.2,166.49 335.9,168.64 336.6,170.79 337.3,172.95 338,175.11 338.7,177.27 339.4,179.45 340.1,181.63 340.8,183.81 341.5,186 342.2,188.19 342.9,190.38 343.6,192.57 344.3,194.75 345,196.91 345.7,199.06 346.4,201.19 347.1,203.29 347.8,205.35 348.5,207.37 349.2,209.34 349.9,211.25 350.6,213.09 351.3,214.86 352,216.54 352.7,218.13 353.4,219.62 354.1,221 354.8,222.26 355.5,223.4 356.2,224.42 356.9,225.29 357.6,226.03 358.3,226.62 359,227.06 359.7,227.35 360.4,227.49 361.1,227.47 361.8,227.3 362.5,226.98 363.2,226.5 363.9,225.88 364.6,225.12 365.3,224.21 366,223.17 366.7,222 367.4,220.71 368.1,219.31 368.8,217.8 369.5,216.19 370.2,214.49 370.9,212.7 371.6,210.85 372.3,208.92 373,206.94 373.7,204.92 374.4,202.84 375.1,200.74 375.8,198.61 376.5,196.45 377.2,194.28 377.9,192.1 378.6,189.91 379.3,187.72 380,185.53 380.7,183.34 381.4,181.16 382.1,178.98 382.8,176.81 383.5,174.64 384.2,172.49 384.9,170.33 385.6,168.18 386.3,166.03 387,163.89 387.7,161.74 388.4,159.59 389.1,157.44 389.8,155.28 390.5,153.12 391.2,150.95 391.9,148.78 392.6,146.59 393.3,144.41 394,142.22 394.7,140.03 395.4,137.84 396.1,135.65 396.8,133.48 397.5,131.32 398.2,129.17 398.9,127.05 399.6,124.97 400.3,122.92 401,120.92 401.7,118.97 402.4,117.08 403.1,115.27 403.8,113.53 404.5,111.88 405.2,110.33 405.9,108.88 406.6,107.54 407.3,106.32 408,105.22 408.7,104.26 409.4,103.43 410.1,102.74 410.8,102.21 411.5,101.82 412.2,101.58 412.9,101.5 413.6,101.57 414.3,101.8 415,102.17 415.7,102.7 416.4,103.38 417.1,104.19 417.8,105.15 418.5,106.23 419.2,107.45 419.9,108.78 420.6,110.22 421.3,111.77 422,113.41 422.7,115.14 423.4,116.95 424.1,118.83 424.8,120.78 425.5,122.78 426.2,124.82 426.9,126.9 427.6,129.02 428.3,131.16 429,133.32 429.7,135.5 430.4,137.68 431.1,139.87 431.8,142.06 432.5,144.25 433.2,146.44 433.9,148.62 434.6,150.79 435.3,152.96 436,155.13 436.7,157.28 437.4,159.44 438.1,161.59 438.8,163.73 439.5,165.88 440.2,168.03 440.9,170.18 441.6,172.33 442.3,174.49 443,176.66 443.7,178.83 444.4,181 445.1,183.19 445.8,185.37 446.5,187.56 447.2,189.75 447.9,191.94 448.6,194.12 449.3,196.3 450,198.45 450.7,200.59 451.4,202.69 452.1,204.77 452.8,206.8 453.5,208.78 454.2,210.71 454.9,212.57 455.6,214.36 456.3,216.07 457,217.68 457.7,219.2 458.4,220.62 459.1,221.91 459.8,223.09 460.5,224.14 461.2,225.06 461.9,225.83 462.6,226.46 463.3,226.95 464,227.28 464.7,227.46 465.4,227.49 466.1,227.37 466.8,227.09 467.5,226.65 468.2,226.07 468.9,225.35 469.6,224.48 470.3,223.48 471,222.35 471.7,221.09 472.4,219.72 473.1,218.24 473.8,216.66 474.5,214.98 475.2,213.22 475.9,211.38 476.6,209.48 477.3,207.52 478,205.5 478.7,203.44 479.4,201.34 480.1,199.22 480.8,197.07 481.5,194.9 482.2,192.72 482.9,190.54 483.6,188.35 484.3,186.16 485,183.97 485.7,181.78 486.4,179.6 487.1,177.43 487.8,175.26 488.5,173.1 489.2,170.95 489.9,168.8 490.6,166.65 491.3,164.5 492,162.35 492.7,160.2 493.4,158.05 494.1,155.9 494.8,153.74 495.5,151.57 496.2,149.4 496.9,147.22 497.6,145.03 498.3,142.84 499,140.65 499.7,138.46 500.4,136.28 501.1,134.1 501.8,131.93 502.5,129.78 503.2,127.66 503.9,125.56 504.6,123.5 505.3,121.48 506,119.52 506.7,117.62 507.4,115.78 508.1,114.02 508.8,112.34 509.5,110.76 510.2,109.28 510.9,107.91 511.6,106.65 512.3,105.52 513,104.52 513.7,103.65 514.4,102.93 515.1,102.35 515.8,101.91 516.5,101.63 517.2,101.51 517.9,101.54 518.6,101.72 519.3,102.05 520,102.54 520.7,103.17 521.4,103.94 522.1,104.86 522.8,105.91 523.5,107.09 524.2,108.38 524.9,109.8 525.6,111.32 526.3,112.93 527,114.64 527.7,116.43 528.4,118.29 529.1,120.22 529.8,122.2 530.5,124.23 531.2,126.31 531.9,128.41 532.6,130.55 533.3,132.7 534,134.88 534.7,137.06 535.4,139.25 536.1,141.44 536.8,143.63 537.5,145.81 538.2,148 538.9,150.17 539.6,152.34 540.3,154.51 541,156.67 541.7,158.82 542.4,160.97" fill="none" stroke="#04c8c8" stroke-width="2.5" stroke-linejoin="round"/><polyline points="20.2,163.01 20.9,165.64 21.6,167.86 22.3,166.87 23,170.65 23.7,171.57 24.4,175.8 25.1,175.6 25.8,177.25 26.5,180.24 27.2,182.7 27.9,186.36 28.6,188.6 29.3,189.31 30,190.92 30.7,194.83 31.4,195.99 32.1,198.69 32.8,201.66 33.5,201.19 34.2,203.24 34.9,207.38 35.6,207.86 36.3,211.95 37,212.24 37.7,215.65 38.4,217.43 39.1,219.59 39.8,219.83 40.5,222.41 41.2,221.4 41.9,221.92 42.6,223 43.3,225.3 44,226.29 44.7,226.25 45.4,225.24 46.1,225.92 46.8,227.97 47.5,227.24 48.2,226.56 48.9,228.37 49.6,226.54 50.3,225.19 51,224.77 51.7,224.83 52.4,221.77 53.1,223.57 53.8,221.94 54.5,220.5 55.2,217.19 55.9,217.14 56.6,215.3 57.3,213.14 58,210.98 58.7,210.33 59.4,208.13 60.1,206.5 60.8,204.94 61.5,201.15 62.2,200.56 62.9,197.59 63.6,195.65 64.3,192.11 65,190.74 65.7,186.75 66.4,184.78 67.1,181.92 67.8,179.79 68.5,178.09 69.2,176.99 69.9,175.29 70.6,170.91 71.3,170.3 72,168.01 72.7,164.81 73.4,164.5 74.1,161.74 74.8,159.4 75.5,157.99 76.2,156 76.9,151.54 77.6,151.7 78.3,150.57 79,145.87 79.7,144.27 80.4,142.89 81.1,140.33 81.8,139.98 82.5,135.88 83.2,133.57 83.9,132.86 84.6,128.62 85.3,126.39 86,127.11 86.7,123.11 87.4,122.12 88.1,118.49 88.8,116.58 89.5,115 90.2,112.02 90.9,113.69 91.6,108.71 92.3,109.36 93,107.65 93.7,106.07 94.4,104.6 95.1,105.66 95.8,102.73 96.5,101.48 97.2,102.27 97.9,102.19 98.6,100.59 99.3,102.12 100,103.36 100.7,100.05 101.4,102.66 102.1,101.24 102.8,101.95 103.5,102.79 104.2,103.52 104.9,104.4 105.6,108.7 106.3,107.88 107,111.67 107.7,112.29 108.4,113.19 109.1,115.35 109.8,115.76 110.5,117.18 111.2,121.39 111.9,123.07 112.6,122.98 113.3,125.62 114,128.05 114.7,131.71 115.4,134.72 116.1,133.74 116.8,138.58 117.5,139.01 118.2,142.18 118.9,142.57 119.6,147.28 120.3,148.37 121,151.39 121.7,150.89 122.4,156.29 123.1,155.09 123.8,159.58 124.5,159.77 125.2,162.95 125.9,164.26 126.6,166.44 127.3,169.8 128,171.53 128.7,174.84 129.4,174.9 130.1,179.18 130.8,179.56 131.5,181.28 132.2,184.55 132.9,186.43 133.6,188.17 134.3,193.3 135,195.61 135.7,197.04 136.4,198.33 137.1,199.72 137.8,203.9 138.5,202.79 139.2,206.13 139.9,208.15 140.6,208.69 141.3,212.34 142,212.54 142.7,215.99 143.4,218.81 144.1,219.14 144.8,219.95 145.5,223.3 146.2,224.16 146.9,223.29 147.6,226.14 148.3,224.15 149,226.11 149.7,225.23 150.4,226.11 151.1,225.93 151.8,228.45 152.5,227.98 153.2,226.92 153.9,228.44 154.6,225.29 155.3,224.06 156,223.72 156.7,221.98 157.4,220.73 158.1,220.74 158.8,220.35 159.5,217.94 160.2,217.21 160.9,213.7 161.6,214.27 162.3,212.76 163,211.32 163.7,207.58 164.4,205.91 165.1,202.24 165.8,199.95 166.5,199.81 167.2,196.97 167.9,194.08 168.6,193.98 169.3,189.9 170,189.98 170.7,185.12 171.4,182.53 172.1,182.92 172.8,181.04 173.5,179.11 174.2,175.1 174.9,173.74 175.6,170.56 176.3,168.66 177,166.57 177.7,166.41 178.4,162.8 179.1,160.87 179.8,157.55 180.5,155.66 181.2,154.86 181.9,151.03 182.6,150.67 183.3,149.03 184,146.25 184.7,143.22 185.4,142.76 186.1,136.9 186.8,137.17 187.5,134.84 188.2,132.95 188.9,129.61 189.6,127.22 190.3,127.36 191,124.8 191.7,122.02 192.4,120.66 193.1,117.99 193.8,115.21 194.5,113.08 195.2,112.81 195.9,109.81 196.6,110.2 197.3,108.04 198,106.14 198.7,107.29 199.4,105.94 200.1,102.61 200.8,101.7 201.5,103.39 202.2,103.11 202.9,103.39 203.6,100.02 204.3,100.41 205,102.36 205.7,101.63 206.4,101.01 207.1,103.76 207.8,105.51 208.5,105.56 209.2,105.67 209.9,108.49 210.6,108.19 211.3,109.87 212,112.41 212.7,112.4 213.4,112.78 214.1,116.08 214.8,117.59 215.5,119.39 216.2,122.92 216.9,123 217.6,126.07 218.3,129.9 219,128.67 219.7,133.1 220.4,134.16 221.1,137.1 221.8,139.45 222.5,142.14 223.2,144.55 223.9,147.39 224.6,146.36 225.3,151.65 226,151.74 226.7,153.39 227.4,155.11 228.1,158.07 228.8,159.52 229.5,164.56 230.2,163.96 230.9,165.33 231.6,168.37 232.3,172.45 233,175.36 233.7,174.26 234.4,177.4 235.1,181.83 235.8,181.35 236.5,183.05 237.2,184.77 237.9,188.83 238.6,189.33 239.3,192.76 240,194.6 240.7,199.14 241.4,200.48 242.1,203.64 242.8,205.52 243.5,206.83 244.2,209.55 244.9,211.14 245.6,211.76 246.3,213.43 247,214.75 247.7,216.11 248.4,219.48 249.1,220.5 249.8,220.41 250.5,222.37 251.2,222.34 251.9,224.91 252.6,226.74 253.3,224.47 254,227.6 254.7,226.11 255.4,225.76 256.1,225.86 256.8,228.92 257.5,227.77 258.2,227.82 258.9,224.46 259.6,227.2 260.3,223.8 261,222.81 261.7,221.26 262.4,222.21 263.1,220.29 263.8,219.16 264.5,216.47 265.2,217.22 265.9,213.68 266.6,211.4 267.3,209.77 268,208.85 268.7,204.92 269.4,202.83 270.1,202.56 270.8,199.69 271.5,197.09 272.2,194.3 272.9,193.32 273.6,190.72 274.3,190.38 275,185.6 275.7,183.12 276.4,181.24 277.1,182.22 277.8,179.38 278.5,174.62 279.2,173.79 279.9,173.66 280.6,169.77 281.3,168.07 282,166.6 282.7,161.59 283.4,160.91 284.1,158.98 284.8,155.9 285.5,155.06 286.2,153.24 286.9,152.21 287.6,146.6 288.3,147.32 289,142.29 289.7,141.05 290.4,137.97 291.1,137.56 291.8,136.44 292.5,132.23 293.2,130.4 293.9,127.16 294.6,127.32 295.3,123.67 296,122.04 296.7,119.75 297.4,119.22 298.1,115.27 298.8,115.86 299.5,111.32 300.2,109.99 300.9,111.23 301.6,109.05 302.3,106.15 303,106.58 303.7,104.94 304.4,104.89 305.1,104.19 305.8,100.92 306.5,100.75 307.2,102.74 307.9,101.31 308.6,101.59 309.3,102.63 310,102.32 310.7,102.75 311.4,104.73 312.1,102.99 312.8,102.9 313.5,105.17 314.2,106.15 314.9,109.3 315.6,108.81 316.3,108.86 317,112.96 317.7,114.89 318.4,116.76 319.1,118.08 319.8,119.17 320.5,120.4 321.2,122.19 321.9,124.9 322.6,126.99 323.3,127.77 324,130.28 324.7,135.67 325.4,137.73 326.1,136.44 326.8,141.47 327.5,142.5 328.2,145.02 328.9,146.84 329.6,148.47 330.3,151.55 331,153.94 331.7,155.39 332.4,158.95 333.1,158.63 333.8,162.73 334.5,162.61 335.2,166.28 335.9,168.45 336.6,169.82 337.3,172.2 338,173.58 338.7,175.72 339.4,180.13 340.1,183 340.8,183.63 341.5,184.97 342.2,189.41 342.9,190.41 343.6,192.38 344.3,194.39 345,196.68 345.7,198.56 346.4,199.97 347.1,201.56 347.8,206.89 348.5,207.85 349.2,207.58 349.9,210.62 350.6,214.43 351.3,216.17 352,215.86 352.7,219.59 353.4,221.29 354.1,222.35 354.8,223.2 355.5,222.56 356.2,226.05 356.9,225.74 357.6,225.86 358.3,227.82 359,227.06 359.7,228.87 360.4,226.88 361.1,229.11 361.8,226.44 362.5,225.94 363.2,225.45 363.9,224.45 364.6,224.4 365.3,222.74 366,224.76 366.7,221.08 367.4,219.07 368.1,219.27 368.8,219.12 369.5,217.06 370.2,214.04 370.9,210.95 371.6,209.41 372.3,208.43 373,208.22 373.7,204.24 374.4,203.35 375.1,199.96 375.8,198.92 376.5,195.7 377.2,194.9 377.9,192.97 378.6,188.47 379.3,188.6 380,186.02 380.7,182.16 381.4,179.63 382.1,178.89 382.8,176.06 383.5,175.23 384.2,172.37 384.9,168.95 385.6,167.03 386.3,164.22 387,162.11 387.7,161.36 388.4,159.03 389.1,155.63 389.8,156.77 390.5,153.04 391.2,151.58 391.9,148.92 392.6,147.02 393.3,145.02 394,141.72 394.7,140.67 395.4,138.63 396.1,136.09 396.8,134.44 397.5,131.41 398.2,129.05 398.9,127.31 399.6,125.78 400.3,123.97 401,122.01 401.7,118.92 402.4,118.82 403.1,113.62 403.8,115.22 404.5,112.9 405.2,110.85 405.9,110.65 406.6,108.13 407.3,108.05 408,103.49 408.7,103.41 409.4,102.45 410.1,104.24 410.8,101.3 411.5,100.38 412.2,102.6 412.9,100.55 413.6,101.49 414.3,100.92 415,100.68 415.7,102.86 416.4,105.06 417.1,103.91 417.8,106.99 418.5,107.41 419.2,107.32 419.9,107.45 420.6,109.48 421.3,111.85 422,115.1 422.7,116.19 423.4,115.46 424.1,119.29 424.8,121.43 425.5,121.44 426.2,124.46 426.9,126.29 427.6,128.99 428.3,131.1 429,134.8 429.7,136.3 430.4,139.33 431.1,139.59 431.8,140.96 432.5,144.33 433.2,147.93 433.9,149.69 434.6,152.18 435.3,152.2 436,156.73 436.7,158.14 437.4,160.03 438.1,159.84 438.8,162.49 439.5,165.4 440.2,169.72 440.9,171.81 441.6,170.8 442.3,175.45 443,177.49 443.7,177.77 444.4,182.71 445.1,182.86 445.8,185.34 446.5,189.18 447.2,188.7 447.9,191.18 448.6,194.14 449.3,196.2 450,199.55 450.7,200.93 451.4,201.54 452.1,202.96 452.8,205.87 453.5,209.43 454.2,211.38 454.9,211.51 455.6,214.67 456.3,217.54 457,216.32 457.7,219.65 458.4,219.73 459.1,222.51 459.8,223.68 460.5,222.66 461.2,226.86 461.9,227.67 462.6,226.36 463.3,227.23 464,227.38 464.7,227.8 465.4,226.1 466.1,225.96 466.8,228.08 467.5,227.64 468.2,226.82 468.9,225.69 469.6,226.31 470.3,223.24 471,221.33 471.7,222.64 472.4,220.29 473.1,217.36 473.8,214.91 474.5,215.69 475.2,214.42 475.9,212.33 476.6,210.95 477.3,208.87 478,206.66 478.7,202.79 479.4,203.2 480.1,197.8 480.8,198.39 481.5,196.6 482.2,192.14 482.9,192.36 483.6,189.79 484.3,187.03 485,182.91 485.7,182.13 486.4,180.1 487.1,176.95 487.8,173.65 488.5,172.41 489.2,172.04 489.9,169.04 490.6,165.19 491.3,162.64 492,163.7 492.7,158.75 493.4,157.94 494.1,157.55 494.8,155.58 495.5,150.42 496.2,149.3 496.9,147.57 497.6,145.21 498.3,141.5 499,140.06 499.7,140.28 500.4,138.08 501.1,133.84 501.8,131.31 502.5,129.87 503.2,126.3 503.9,123.95 504.6,124.53 505.3,123.17 506,121.14 506.7,117.48 507.4,116.75 508.1,114.8 508.8,111.47 509.5,111.07 510.2,110.76 510.9,108.61 511.6,107.75 512.3,107.18 513,103.79 513.7,105.33 514.4,104.63 515.1,101.74 515.8,100.99 516.5,100.23 517.2,100.35 517.9,100.14 518.6,103.14 519.3,101.17 520,102.13 520.7,104.3 521.4,102.85 522.1,103.85 522.8,105.75 523.5,107.49 524.2,108.41 524.9,108.15 525.6,112.82 526.3,113.16 527,114.79 527.7,116.21 528.4,117.64 529.1,120.42 529.8,121.85 530.5,123.75 531.2,126.94 531.9,130.01 532.6,129.64 533.3,131.72 534,133.13 534.7,136.57 535.4,141.07 536.1,141.05 536.8,145.12 537.5,145.59 538.2,146.44 538.9,150.74 539.6,154.19 540.3,154.28 541,156.67 541.7,160.53 542.4,159.64" fill="none" stroke="#007276" stroke-width="0.9" stroke-opacity="0.6"/><path d="M9 160.4h5.8l3.4 3l-3.4 3h-5.8z" fill="#fff" stroke="#e070e4" stroke-width="1"/><rect x="11" y="161.4" width="4.2" height="1.7" fill="#c020c8"/><path d="M9.8 164h5.9l3.6 4.8l-3.6 4.8h-5.9l-1-1v-7.6z" fill="#12d4d6"/><text x="10.6" y="172" font-family="Liberation Sans, sans-serif" font-size="9.5" fill="#fff">2</text><path d="M536.6 168l4.4-3.2v6.4z" fill="#18d0d8"/><rect x="19.6" y="11.5" width="523.4" height="30.7" fill="#fff" stroke="#000" stroke-width="1.4"/><rect x="76.6" y="22.7" width="22.1" height="3.4" rx="1.5" fill="#0acccc"/><rect x="342.4" y="21.9" width="19.3" height="3.2" rx="1.5" fill="#ff30ff"/><text transform="translate(107 29.1) scale(1 1)" font-family="Liberation Serif, serif" font-size="25" font-weight="bold" font-style="italic" fill="#000">v</text><text transform="translate(117.8 32.2) scale(1 1)" font-family="Liberation Serif, serif" font-size="12.7" font-weight="normal" font-style="italic" fill="#000">S</text><text transform="translate(134.8 31.1) scale(1.01 1)" font-family="Liberation Serif, serif" font-size="18.2" font-weight="bold" font-style="normal" fill="#08cfd9">100.0(V/div)</text><text transform="translate(371.6 30.5) skewX(-6) scale(1.18 1)" font-family="Liberation Serif, serif" font-size="22" font-weight="bold" font-style="italic" fill="#000">i</text><text transform="translate(378.2 32.9) scale(1 1)" font-family="Liberation Serif, serif" font-size="12.8" font-weight="normal" font-style="italic" fill="#1a1a1a">L<tspan font-style="normal">1</tspan></text><text transform="translate(402 30.7) scale(1.02 1)" font-family="Liberation Serif, serif" font-size="18.2" font-weight="bold" font-style="normal" fill="#ff14f8">5.0(A/div)</text><text transform="translate(443.6 63.8) scale(0.97 1)" font-family="Liberation Serif, serif" font-size="16.2" font-weight="bold" font-style="normal" fill="#000">10.0(ms/div)</text></svg></body></html>
